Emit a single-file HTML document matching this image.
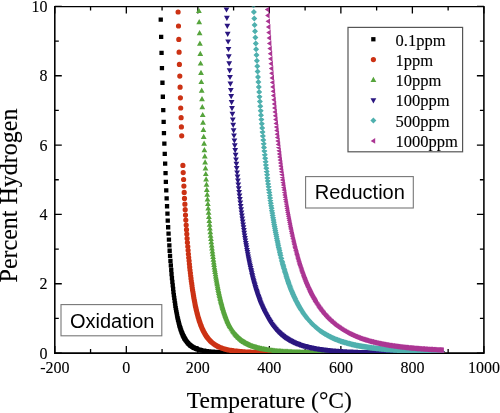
<!DOCTYPE html>
<html><head><meta charset="utf-8"><style>
html,body{margin:0;padding:0;background:#fff;width:500px;height:413px;overflow:hidden}
svg{display:block;will-change:transform}
.serif{font-family:"Liberation Serif",serif;stroke:#000;stroke-width:0.12px}
.sans{font-family:"Liberation Sans",sans-serif}
</style></head><body>
<svg width="500" height="413" viewBox="0 0 500 413">
<defs><clipPath id="c"><rect x="54.8" y="6.4" width="429.10" height="346.70"/></clipPath></defs>
<rect width="500" height="413" fill="#fff"/>
<path d="M54.8 6.6H483.9" stroke="#000" stroke-width="1.3"/>
<path d="M54.8 6.0V353.85M483.9 6.0V353.85M54.05 353.1H484.65" stroke="#000" stroke-width="1.55"/>
<path d="M54.80 353.1v-7M54.80 6.4v7M90.56 353.1v-4M90.56 6.4v4M126.32 353.1v-7M126.32 6.4v7M162.07 353.1v-4M162.07 6.4v4M197.83 353.1v-7M197.83 6.4v7M233.59 353.1v-4M233.59 6.4v4M269.35 353.1v-7M269.35 6.4v7M305.11 353.1v-4M305.11 6.4v4M340.87 353.1v-7M340.87 6.4v7M376.62 353.1v-4M376.62 6.4v4M412.38 353.1v-7M412.38 6.4v7M448.14 353.1v-4M448.14 6.4v4M483.90 353.1v-7M483.90 6.4v7M54.8 353.10h7M483.9 353.10h-7M54.8 318.43h4M483.9 318.43h-4M54.8 283.76h7M483.9 283.76h-7M54.8 249.09h4M483.9 249.09h-4M54.8 214.42h7M483.9 214.42h-7M54.8 179.75h4M483.9 179.75h-4M54.8 145.08h7M483.9 145.08h-7M54.8 110.41h4M483.9 110.41h-4M54.8 75.74h7M483.9 75.74h-7M54.8 41.07h4M483.9 41.07h-4M54.8 6.40h7M483.9 6.40h-7" stroke="#000" stroke-width="1.3" fill="none"/>
<g clip-path="url(#c)"><path fill="#000000" d="M158.1 -0.7h4.3v4.3h-4.3zM158.6 17.4h4.3v4.3h-4.3zM159.0 34.7h4.3v4.3h-4.3zM159.4 50.7h4.3v4.3h-4.3zM159.8 66.0h4.3v4.3h-4.3zM160.3 80.6h4.3v4.3h-4.3zM160.7 94.6h4.3v4.3h-4.3zM161.1 108.0h4.3v4.3h-4.3zM161.5 119.7h4.3v4.3h-4.3zM161.8 130.9h4.3v4.3h-4.3zM162.2 141.5h4.3v4.3h-4.3zM162.6 151.8h4.3v4.3h-4.3zM163.0 161.5h4.3v4.3h-4.3zM163.4 170.9h4.3v4.3h-4.3zM163.7 179.8h4.3v4.3h-4.3zM164.1 188.3h4.3v4.3h-4.3zM164.5 196.3h4.3v4.3h-4.3zM164.9 204.1h4.3v4.3h-4.3zM165.3 211.4h4.3v4.3h-4.3zM165.6 218.4h4.3v4.3h-4.3zM166.0 225.1h4.3v4.3h-4.3zM166.4 231.4h4.3v4.3h-4.3zM166.8 237.4h4.3v4.3h-4.3zM167.2 243.2h4.3v4.3h-4.3zM167.5 248.6h4.3v4.3h-4.3zM167.9 253.8h4.3v4.3h-4.3zM168.3 258.7h4.3v4.3h-4.3zM168.7 263.3h4.3v4.3h-4.3zM169.1 267.7h4.3v4.3h-4.3zM169.4 271.9h4.3v4.3h-4.3zM169.8 275.9h4.3v4.3h-4.3zM170.2 279.7h4.3v4.3h-4.3zM170.6 283.3h4.3v4.3h-4.3zM171.0 286.7h4.3v4.3h-4.3zM171.3 289.9h4.3v4.3h-4.3zM171.7 292.9h4.3v4.3h-4.3zM172.1 295.8h4.3v4.3h-4.3zM172.5 298.6h4.3v4.3h-4.3zM172.9 301.2h4.3v4.3h-4.3zM173.2 303.6h4.3v4.3h-4.3zM173.6 306.0h4.3v4.3h-4.3zM174.0 308.2h4.3v4.3h-4.3zM174.4 310.3h4.3v4.3h-4.3zM174.8 312.3h4.3v4.3h-4.3zM175.1 314.2h4.3v4.3h-4.3zM175.5 315.9h4.3v4.3h-4.3zM175.9 317.6h4.3v4.3h-4.3zM176.3 319.2h4.3v4.3h-4.3zM176.7 320.8h4.3v4.3h-4.3zM177.0 322.2h4.3v4.3h-4.3zM177.4 323.6h4.3v4.3h-4.3zM177.8 324.9h4.3v4.3h-4.3zM178.2 326.1h4.3v4.3h-4.3zM178.5 327.2h4.3v4.3h-4.3zM178.9 328.3h4.3v4.3h-4.3zM179.3 329.4h4.3v4.3h-4.3zM179.7 330.4h4.3v4.3h-4.3zM180.1 331.3h4.3v4.3h-4.3zM180.4 332.2h4.3v4.3h-4.3zM180.8 333.1h4.3v4.3h-4.3zM181.2 333.9h4.3v4.3h-4.3zM181.6 334.6h4.3v4.3h-4.3zM182.0 335.4h4.3v4.3h-4.3zM182.3 336.1h4.3v4.3h-4.3zM182.7 336.7h4.3v4.3h-4.3zM183.1 337.3h4.3v4.3h-4.3zM183.5 337.9h4.3v4.3h-4.3zM184.2 339.0h4.3v4.3h-4.3zM185.0 340.0h4.3v4.3h-4.3zM185.8 340.9h4.3v4.3h-4.3zM186.5 341.7h4.3v4.3h-4.3zM187.3 342.4h4.3v4.3h-4.3zM188.0 343.1h4.3v4.3h-4.3zM188.8 343.7h4.3v4.3h-4.3zM189.6 344.2h4.3v4.3h-4.3zM190.3 344.7h4.3v4.3h-4.3zM191.1 345.2h4.3v4.3h-4.3zM191.8 345.6h4.3v4.3h-4.3zM192.6 346.0h4.3v4.3h-4.3zM193.4 346.3h4.3v4.3h-4.3zM194.1 346.6h4.3v4.3h-4.3zM194.9 346.9h4.3v4.3h-4.3zM195.6 347.2h4.3v4.3h-4.3zM196.4 347.4h4.3v4.3h-4.3zM197.1 347.6h4.3v4.3h-4.3zM197.9 347.8h4.3v4.3h-4.3zM198.7 348.0h4.3v4.3h-4.3zM199.4 348.2h4.3v4.3h-4.3zM200.2 348.4h4.3v4.3h-4.3zM200.9 348.5h4.3v4.3h-4.3zM201.7 348.6h4.3v4.3h-4.3zM202.5 348.8h4.3v4.3h-4.3zM203.2 348.9h4.3v4.3h-4.3zM204.0 349.0h4.3v4.3h-4.3zM204.7 349.1h4.3v4.3h-4.3zM205.5 349.2h4.3v4.3h-4.3zM206.3 349.2h4.3v4.3h-4.3zM207.0 349.3h4.3v4.3h-4.3zM207.8 349.4h4.3v4.3h-4.3zM208.5 349.5h4.3v4.3h-4.3zM209.3 349.5h4.3v4.3h-4.3zM210.1 349.6h4.3v4.3h-4.3zM210.8 349.6h4.3v4.3h-4.3zM211.6 349.7h4.3v4.3h-4.3zM212.3 349.7h4.3v4.3h-4.3zM213.1 349.8h4.3v4.3h-4.3zM213.9 349.8h4.3v4.3h-4.3zM214.6 349.8h4.3v4.3h-4.3zM215.4 349.9h4.3v4.3h-4.3zM216.1 349.9h4.3v4.3h-4.3zM216.9 349.9h4.3v4.3h-4.3zM217.6 350.0h4.3v4.3h-4.3zM218.4 350.0h4.3v4.3h-4.3zM219.2 350.0h4.3v4.3h-4.3zM219.9 350.0h4.3v4.3h-4.3zM220.7 350.1h4.3v4.3h-4.3zM221.4 350.1h4.3v4.3h-4.3zM222.2 350.1h4.3v4.3h-4.3zM223.0 350.1h4.3v4.3h-4.3zM223.7 350.1h4.3v4.3h-4.3zM224.5 350.1h4.3v4.3h-4.3zM225.2 350.2h4.3v4.3h-4.3zM226.0 350.2h4.3v4.3h-4.3zM226.8 350.2h4.3v4.3h-4.3zM227.5 350.2h4.3v4.3h-4.3zM228.3 350.2h4.3v4.3h-4.3zM229.0 350.2h4.3v4.3h-4.3zM229.8 350.2h4.3v4.3h-4.3zM230.6 350.2h4.3v4.3h-4.3zM231.3 350.3h4.3v4.3h-4.3zM232.1 350.3h4.3v4.3h-4.3zM232.8 350.3h4.3v4.3h-4.3zM233.6 350.3h4.3v4.3h-4.3zM234.4 350.3h4.3v4.3h-4.3zM235.1 350.3h4.3v4.3h-4.3zM235.9 350.3h4.3v4.3h-4.3zM236.6 350.3h4.3v4.3h-4.3zM237.4 350.3h4.3v4.3h-4.3zM238.1 350.3h4.3v4.3h-4.3zM238.9 350.4h4.3v4.3h-4.3zM239.7 350.4h4.3v4.3h-4.3zM240.4 350.4h4.3v4.3h-4.3zM241.2 350.4h4.3v4.3h-4.3zM241.9 350.4h4.3v4.3h-4.3zM242.7 350.4h4.3v4.3h-4.3zM243.5 350.4h4.3v4.3h-4.3zM244.2 350.4h4.3v4.3h-4.3zM245.0 350.4h4.3v4.3h-4.3zM245.7 350.4h4.3v4.3h-4.3zM246.5 350.4h4.3v4.3h-4.3zM247.3 350.4h4.3v4.3h-4.3zM248.0 350.4h4.3v4.3h-4.3zM248.8 350.5h4.3v4.3h-4.3zM249.5 350.5h4.3v4.3h-4.3zM250.3 350.5h4.3v4.3h-4.3zM251.1 350.5h4.3v4.3h-4.3zM251.8 350.5h4.3v4.3h-4.3zM252.6 350.5h4.3v4.3h-4.3zM253.3 350.5h4.3v4.3h-4.3zM254.1 350.5h4.3v4.3h-4.3zM254.8 350.5h4.3v4.3h-4.3zM255.6 350.5h4.3v4.3h-4.3zM256.4 350.5h4.3v4.3h-4.3zM257.1 350.5h4.3v4.3h-4.3zM257.9 350.5h4.3v4.3h-4.3zM258.6 350.5h4.3v4.3h-4.3zM259.4 350.5h4.3v4.3h-4.3zM260.2 350.5h4.3v4.3h-4.3zM260.9 350.5h4.3v4.3h-4.3zM261.7 350.5h4.3v4.3h-4.3zM262.4 350.6h4.3v4.3h-4.3zM263.2 350.6h4.3v4.3h-4.3zM264.0 350.6h4.3v4.3h-4.3zM264.7 350.6h4.3v4.3h-4.3zM265.5 350.6h4.3v4.3h-4.3zM266.2 350.6h4.3v4.3h-4.3zM267.0 350.6h4.3v4.3h-4.3zM267.8 350.6h4.3v4.3h-4.3zM268.5 350.6h4.3v4.3h-4.3zM269.3 350.6h4.3v4.3h-4.3zM270.0 350.6h4.3v4.3h-4.3zM270.8 350.6h4.3v4.3h-4.3zM271.6 350.6h4.3v4.3h-4.3zM272.3 350.6h4.3v4.3h-4.3zM273.1 350.6h4.3v4.3h-4.3zM273.8 350.6h4.3v4.3h-4.3zM274.6 350.6h4.3v4.3h-4.3zM275.3 350.6h4.3v4.3h-4.3zM276.1 350.6h4.3v4.3h-4.3zM276.9 350.6h4.3v4.3h-4.3zM277.6 350.6h4.3v4.3h-4.3zM278.4 350.6h4.3v4.3h-4.3zM279.1 350.6h4.3v4.3h-4.3zM279.9 350.6h4.3v4.3h-4.3zM280.7 350.6h4.3v4.3h-4.3zM281.4 350.6h4.3v4.3h-4.3zM282.2 350.6h4.3v4.3h-4.3zM282.9 350.7h4.3v4.3h-4.3zM283.7 350.7h4.3v4.3h-4.3zM284.5 350.7h4.3v4.3h-4.3zM285.2 350.7h4.3v4.3h-4.3zM286.0 350.7h4.3v4.3h-4.3zM286.7 350.7h4.3v4.3h-4.3zM287.5 350.7h4.3v4.3h-4.3zM288.3 350.7h4.3v4.3h-4.3zM289.0 350.7h4.3v4.3h-4.3zM289.8 350.7h4.3v4.3h-4.3zM290.5 350.7h4.3v4.3h-4.3zM291.3 350.7h4.3v4.3h-4.3zM292.1 350.7h4.3v4.3h-4.3zM292.8 350.7h4.3v4.3h-4.3zM293.6 350.7h4.3v4.3h-4.3zM294.3 350.7h4.3v4.3h-4.3zM295.1 350.7h4.3v4.3h-4.3zM295.8 350.7h4.3v4.3h-4.3zM296.6 350.7h4.3v4.3h-4.3zM297.4 350.7h4.3v4.3h-4.3zM298.1 350.7h4.3v4.3h-4.3zM298.9 350.7h4.3v4.3h-4.3zM299.6 350.7h4.3v4.3h-4.3zM300.4 350.7h4.3v4.3h-4.3zM301.2 350.7h4.3v4.3h-4.3zM301.9 350.7h4.3v4.3h-4.3zM302.7 350.7h4.3v4.3h-4.3zM303.4 350.7h4.3v4.3h-4.3zM304.2 350.7h4.3v4.3h-4.3zM305.0 350.7h4.3v4.3h-4.3zM305.7 350.7h4.3v4.3h-4.3zM306.5 350.7h4.3v4.3h-4.3zM307.2 350.7h4.3v4.3h-4.3zM308.0 350.7h4.3v4.3h-4.3zM308.8 350.7h4.3v4.3h-4.3zM309.5 350.7h4.3v4.3h-4.3zM310.3 350.7h4.3v4.3h-4.3zM311.0 350.7h4.3v4.3h-4.3zM311.8 350.7h4.3v4.3h-4.3zM312.5 350.7h4.3v4.3h-4.3zM313.3 350.7h4.3v4.3h-4.3zM314.1 350.7h4.3v4.3h-4.3zM314.8 350.7h4.3v4.3h-4.3zM315.6 350.7h4.3v4.3h-4.3zM316.3 350.7h4.3v4.3h-4.3zM317.1 350.7h4.3v4.3h-4.3zM317.9 350.8h4.3v4.3h-4.3zM318.6 350.8h4.3v4.3h-4.3zM319.4 350.8h4.3v4.3h-4.3zM320.1 350.8h4.3v4.3h-4.3zM320.9 350.8h4.3v4.3h-4.3zM321.7 350.8h4.3v4.3h-4.3zM322.4 350.8h4.3v4.3h-4.3zM323.2 350.8h4.3v4.3h-4.3zM323.9 350.8h4.3v4.3h-4.3zM324.7 350.8h4.3v4.3h-4.3zM325.5 350.8h4.3v4.3h-4.3zM326.2 350.8h4.3v4.3h-4.3zM327.0 350.8h4.3v4.3h-4.3zM327.7 350.8h4.3v4.3h-4.3zM328.5 350.8h4.3v4.3h-4.3zM329.3 350.8h4.3v4.3h-4.3zM330.0 350.8h4.3v4.3h-4.3zM330.8 350.8h4.3v4.3h-4.3zM331.5 350.8h4.3v4.3h-4.3zM332.3 350.8h4.3v4.3h-4.3zM333.0 350.8h4.3v4.3h-4.3zM333.8 350.8h4.3v4.3h-4.3zM334.6 350.8h4.3v4.3h-4.3zM335.3 350.8h4.3v4.3h-4.3zM336.1 350.8h4.3v4.3h-4.3zM336.8 350.8h4.3v4.3h-4.3zM337.6 350.8h4.3v4.3h-4.3zM338.4 350.8h4.3v4.3h-4.3zM339.1 350.8h4.3v4.3h-4.3zM339.9 350.8h4.3v4.3h-4.3zM340.6 350.8h4.3v4.3h-4.3zM341.4 350.8h4.3v4.3h-4.3zM342.2 350.8h4.3v4.3h-4.3zM342.9 350.8h4.3v4.3h-4.3zM343.7 350.8h4.3v4.3h-4.3zM344.4 350.8h4.3v4.3h-4.3zM345.2 350.8h4.3v4.3h-4.3zM346.0 350.8h4.3v4.3h-4.3zM346.7 350.8h4.3v4.3h-4.3zM347.5 350.8h4.3v4.3h-4.3zM348.2 350.8h4.3v4.3h-4.3zM349.0 350.8h4.3v4.3h-4.3zM349.8 350.8h4.3v4.3h-4.3zM350.5 350.8h4.3v4.3h-4.3zM351.3 350.8h4.3v4.3h-4.3zM352.0 350.8h4.3v4.3h-4.3zM352.8 350.8h4.3v4.3h-4.3zM353.5 350.8h4.3v4.3h-4.3zM354.3 350.8h4.3v4.3h-4.3zM355.1 350.8h4.3v4.3h-4.3zM355.8 350.8h4.3v4.3h-4.3zM356.6 350.8h4.3v4.3h-4.3zM357.3 350.8h4.3v4.3h-4.3zM358.1 350.8h4.3v4.3h-4.3zM358.9 350.8h4.3v4.3h-4.3zM359.6 350.8h4.3v4.3h-4.3zM360.4 350.8h4.3v4.3h-4.3zM361.1 350.8h4.3v4.3h-4.3zM361.9 350.8h4.3v4.3h-4.3zM362.7 350.8h4.3v4.3h-4.3zM363.4 350.8h4.3v4.3h-4.3zM364.2 350.8h4.3v4.3h-4.3zM364.9 350.8h4.3v4.3h-4.3zM365.7 350.8h4.3v4.3h-4.3zM366.5 350.8h4.3v4.3h-4.3zM367.2 350.8h4.3v4.3h-4.3zM368.0 350.8h4.3v4.3h-4.3zM368.7 350.8h4.3v4.3h-4.3zM369.5 350.8h4.3v4.3h-4.3zM370.3 350.8h4.3v4.3h-4.3zM371.0 350.8h4.3v4.3h-4.3zM371.8 350.8h4.3v4.3h-4.3zM372.5 350.8h4.3v4.3h-4.3zM373.3 350.8h4.3v4.3h-4.3zM374.0 350.8h4.3v4.3h-4.3zM374.8 350.8h4.3v4.3h-4.3zM375.6 350.8h4.3v4.3h-4.3zM376.3 350.8h4.3v4.3h-4.3zM377.1 350.8h4.3v4.3h-4.3zM377.8 350.8h4.3v4.3h-4.3zM378.6 350.8h4.3v4.3h-4.3zM379.4 350.8h4.3v4.3h-4.3zM380.1 350.8h4.3v4.3h-4.3zM380.9 350.8h4.3v4.3h-4.3zM381.6 350.8h4.3v4.3h-4.3zM382.4 350.8h4.3v4.3h-4.3zM383.2 350.8h4.3v4.3h-4.3zM383.9 350.8h4.3v4.3h-4.3zM384.7 350.8h4.3v4.3h-4.3zM385.4 350.8h4.3v4.3h-4.3zM386.2 350.8h4.3v4.3h-4.3zM387.0 350.8h4.3v4.3h-4.3zM387.7 350.8h4.3v4.3h-4.3zM388.5 350.8h4.3v4.3h-4.3zM389.2 350.8h4.3v4.3h-4.3zM390.0 350.8h4.3v4.3h-4.3zM390.7 350.8h4.3v4.3h-4.3zM391.5 350.8h4.3v4.3h-4.3zM392.3 350.8h4.3v4.3h-4.3zM393.0 350.8h4.3v4.3h-4.3zM393.8 350.8h4.3v4.3h-4.3zM394.5 350.8h4.3v4.3h-4.3zM395.3 350.8h4.3v4.3h-4.3zM396.1 350.8h4.3v4.3h-4.3zM396.8 350.8h4.3v4.3h-4.3zM397.6 350.8h4.3v4.3h-4.3zM398.3 350.8h4.3v4.3h-4.3zM399.1 350.8h4.3v4.3h-4.3zM399.9 350.8h4.3v4.3h-4.3zM400.6 350.8h4.3v4.3h-4.3zM401.4 350.8h4.3v4.3h-4.3zM402.1 350.8h4.3v4.3h-4.3zM402.9 350.8h4.3v4.3h-4.3zM403.7 350.8h4.3v4.3h-4.3zM404.4 350.8h4.3v4.3h-4.3zM405.2 350.8h4.3v4.3h-4.3zM405.9 350.8h4.3v4.3h-4.3zM406.7 350.9h4.3v4.3h-4.3zM407.5 350.9h4.3v4.3h-4.3zM408.2 350.9h4.3v4.3h-4.3zM409.0 350.9h4.3v4.3h-4.3zM409.7 350.9h4.3v4.3h-4.3zM410.5 350.9h4.3v4.3h-4.3zM411.2 350.9h4.3v4.3h-4.3zM412.0 350.9h4.3v4.3h-4.3zM412.8 350.9h4.3v4.3h-4.3zM413.5 350.9h4.3v4.3h-4.3zM414.3 350.9h4.3v4.3h-4.3zM415.0 350.9h4.3v4.3h-4.3zM415.8 350.9h4.3v4.3h-4.3zM416.6 350.9h4.3v4.3h-4.3zM417.3 350.9h4.3v4.3h-4.3zM418.1 350.9h4.3v4.3h-4.3zM418.8 350.9h4.3v4.3h-4.3zM419.6 350.9h4.3v4.3h-4.3zM420.4 350.9h4.3v4.3h-4.3zM421.1 350.9h4.3v4.3h-4.3zM421.9 350.9h4.3v4.3h-4.3zM422.6 350.9h4.3v4.3h-4.3zM423.4 350.9h4.3v4.3h-4.3zM424.2 350.9h4.3v4.3h-4.3zM424.9 350.9h4.3v4.3h-4.3zM425.7 350.9h4.3v4.3h-4.3zM426.4 350.9h4.3v4.3h-4.3zM427.2 350.9h4.3v4.3h-4.3zM428.0 350.9h4.3v4.3h-4.3zM428.7 350.9h4.3v4.3h-4.3zM429.5 350.9h4.3v4.3h-4.3zM430.2 350.9h4.3v4.3h-4.3zM431.0 350.9h4.3v4.3h-4.3zM431.7 350.9h4.3v4.3h-4.3zM432.5 350.9h4.3v4.3h-4.3zM433.3 350.9h4.3v4.3h-4.3zM434.0 350.9h4.3v4.3h-4.3zM434.8 350.9h4.3v4.3h-4.3zM435.5 350.9h4.3v4.3h-4.3zM436.3 350.9h4.3v4.3h-4.3zM437.1 350.9h4.3v4.3h-4.3zM437.8 350.9h4.3v4.3h-4.3zM438.6 350.9h4.3v4.3h-4.3zM439.3 350.9h4.3v4.3h-4.3zM440.1 350.9h4.3v4.3h-4.3z"/><path fill="#cc3214" d="M175.2 -2.7a2.6 2.6 0 1 0 5.2 0a2.6 2.6 0 1 0 -5.2 0zM175.5 12.0a2.6 2.6 0 1 0 5.2 0a2.6 2.6 0 1 0 -5.2 0zM175.9 26.0a2.6 2.6 0 1 0 5.2 0a2.6 2.6 0 1 0 -5.2 0zM176.2 39.4a2.6 2.6 0 1 0 5.2 0a2.6 2.6 0 1 0 -5.2 0zM176.5 52.2a2.6 2.6 0 1 0 5.2 0a2.6 2.6 0 1 0 -5.2 0zM176.8 64.4a2.6 2.6 0 1 0 5.2 0a2.6 2.6 0 1 0 -5.2 0zM177.2 76.1a2.6 2.6 0 1 0 5.2 0a2.6 2.6 0 1 0 -5.2 0zM177.5 87.2a2.6 2.6 0 1 0 5.2 0a2.6 2.6 0 1 0 -5.2 0zM177.8 97.8a2.6 2.6 0 1 0 5.2 0a2.6 2.6 0 1 0 -5.2 0zM178.1 108.0a2.6 2.6 0 1 0 5.2 0a2.6 2.6 0 1 0 -5.2 0zM178.5 117.7a2.6 2.6 0 1 0 5.2 0a2.6 2.6 0 1 0 -5.2 0zM178.8 126.9a2.6 2.6 0 1 0 5.2 0a2.6 2.6 0 1 0 -5.2 0zM179.1 135.8a2.6 2.6 0 1 0 5.2 0a2.6 2.6 0 1 0 -5.2 0zM180.3 165.4a2.6 2.6 0 1 0 5.2 0a2.6 2.6 0 1 0 -5.2 0zM180.6 172.6a2.6 2.6 0 1 0 5.2 0a2.6 2.6 0 1 0 -5.2 0zM181.0 179.5a2.6 2.6 0 1 0 5.2 0a2.6 2.6 0 1 0 -5.2 0zM181.3 186.1a2.6 2.6 0 1 0 5.2 0a2.6 2.6 0 1 0 -5.2 0zM181.6 192.4a2.6 2.6 0 1 0 5.2 0a2.6 2.6 0 1 0 -5.2 0zM181.9 198.4a2.6 2.6 0 1 0 5.2 0a2.6 2.6 0 1 0 -5.2 0zM182.3 204.2a2.6 2.6 0 1 0 5.2 0a2.6 2.6 0 1 0 -5.2 0zM182.6 209.7a2.6 2.6 0 1 0 5.2 0a2.6 2.6 0 1 0 -5.2 0zM182.9 215.0a2.6 2.6 0 1 0 5.2 0a2.6 2.6 0 1 0 -5.2 0zM183.2 220.1a2.6 2.6 0 1 0 5.2 0a2.6 2.6 0 1 0 -5.2 0zM183.6 225.0a2.6 2.6 0 1 0 5.2 0a2.6 2.6 0 1 0 -5.2 0zM183.9 229.7a2.6 2.6 0 1 0 5.2 0a2.6 2.6 0 1 0 -5.2 0zM184.2 234.1a2.6 2.6 0 1 0 5.2 0a2.6 2.6 0 1 0 -5.2 0zM184.5 238.4a2.6 2.6 0 1 0 5.2 0a2.6 2.6 0 1 0 -5.2 0zM184.8 242.6a2.6 2.6 0 1 0 5.2 0a2.6 2.6 0 1 0 -5.2 0zM185.2 246.5a2.6 2.6 0 1 0 5.2 0a2.6 2.6 0 1 0 -5.2 0zM185.5 250.3a2.6 2.6 0 1 0 5.2 0a2.6 2.6 0 1 0 -5.2 0zM185.8 254.0a2.6 2.6 0 1 0 5.2 0a2.6 2.6 0 1 0 -5.2 0zM186.1 257.5a2.6 2.6 0 1 0 5.2 0a2.6 2.6 0 1 0 -5.2 0zM186.5 260.8a2.6 2.6 0 1 0 5.2 0a2.6 2.6 0 1 0 -5.2 0zM186.8 264.1a2.6 2.6 0 1 0 5.2 0a2.6 2.6 0 1 0 -5.2 0zM187.1 267.2a2.6 2.6 0 1 0 5.2 0a2.6 2.6 0 1 0 -5.2 0zM187.4 270.1a2.6 2.6 0 1 0 5.2 0a2.6 2.6 0 1 0 -5.2 0zM187.8 273.0a2.6 2.6 0 1 0 5.2 0a2.6 2.6 0 1 0 -5.2 0zM188.1 275.8a2.6 2.6 0 1 0 5.2 0a2.6 2.6 0 1 0 -5.2 0zM188.4 278.4a2.6 2.6 0 1 0 5.2 0a2.6 2.6 0 1 0 -5.2 0zM188.7 280.9a2.6 2.6 0 1 0 5.2 0a2.6 2.6 0 1 0 -5.2 0zM189.1 283.4a2.6 2.6 0 1 0 5.2 0a2.6 2.6 0 1 0 -5.2 0zM189.4 285.7a2.6 2.6 0 1 0 5.2 0a2.6 2.6 0 1 0 -5.2 0zM189.7 288.0a2.6 2.6 0 1 0 5.2 0a2.6 2.6 0 1 0 -5.2 0zM190.0 290.2a2.6 2.6 0 1 0 5.2 0a2.6 2.6 0 1 0 -5.2 0zM190.4 292.3a2.6 2.6 0 1 0 5.2 0a2.6 2.6 0 1 0 -5.2 0zM190.7 294.3a2.6 2.6 0 1 0 5.2 0a2.6 2.6 0 1 0 -5.2 0zM191.0 296.2a2.6 2.6 0 1 0 5.2 0a2.6 2.6 0 1 0 -5.2 0zM191.3 298.1a2.6 2.6 0 1 0 5.2 0a2.6 2.6 0 1 0 -5.2 0zM191.7 299.9a2.6 2.6 0 1 0 5.2 0a2.6 2.6 0 1 0 -5.2 0zM192.0 301.6a2.6 2.6 0 1 0 5.2 0a2.6 2.6 0 1 0 -5.2 0zM192.3 303.3a2.6 2.6 0 1 0 5.2 0a2.6 2.6 0 1 0 -5.2 0zM192.6 304.9a2.6 2.6 0 1 0 5.2 0a2.6 2.6 0 1 0 -5.2 0zM192.9 306.4a2.6 2.6 0 1 0 5.2 0a2.6 2.6 0 1 0 -5.2 0zM193.3 307.9a2.6 2.6 0 1 0 5.2 0a2.6 2.6 0 1 0 -5.2 0zM193.6 309.4a2.6 2.6 0 1 0 5.2 0a2.6 2.6 0 1 0 -5.2 0zM193.9 310.7a2.6 2.6 0 1 0 5.2 0a2.6 2.6 0 1 0 -5.2 0zM194.2 312.1a2.6 2.6 0 1 0 5.2 0a2.6 2.6 0 1 0 -5.2 0zM194.6 313.4a2.6 2.6 0 1 0 5.2 0a2.6 2.6 0 1 0 -5.2 0zM194.9 314.6a2.6 2.6 0 1 0 5.2 0a2.6 2.6 0 1 0 -5.2 0zM195.2 315.8a2.6 2.6 0 1 0 5.2 0a2.6 2.6 0 1 0 -5.2 0zM195.5 317.0a2.6 2.6 0 1 0 5.2 0a2.6 2.6 0 1 0 -5.2 0zM195.9 318.1a2.6 2.6 0 1 0 5.2 0a2.6 2.6 0 1 0 -5.2 0zM196.2 319.2a2.6 2.6 0 1 0 5.2 0a2.6 2.6 0 1 0 -5.2 0zM196.5 320.2a2.6 2.6 0 1 0 5.2 0a2.6 2.6 0 1 0 -5.2 0zM196.8 321.2a2.6 2.6 0 1 0 5.2 0a2.6 2.6 0 1 0 -5.2 0zM197.2 322.2a2.6 2.6 0 1 0 5.2 0a2.6 2.6 0 1 0 -5.2 0zM197.5 323.1a2.6 2.6 0 1 0 5.2 0a2.6 2.6 0 1 0 -5.2 0zM197.8 324.0a2.6 2.6 0 1 0 5.2 0a2.6 2.6 0 1 0 -5.2 0zM198.1 324.9a2.6 2.6 0 1 0 5.2 0a2.6 2.6 0 1 0 -5.2 0zM198.5 325.7a2.6 2.6 0 1 0 5.2 0a2.6 2.6 0 1 0 -5.2 0zM198.8 326.5a2.6 2.6 0 1 0 5.2 0a2.6 2.6 0 1 0 -5.2 0zM199.1 327.3a2.6 2.6 0 1 0 5.2 0a2.6 2.6 0 1 0 -5.2 0zM199.4 328.1a2.6 2.6 0 1 0 5.2 0a2.6 2.6 0 1 0 -5.2 0zM199.7 328.8a2.6 2.6 0 1 0 5.2 0a2.6 2.6 0 1 0 -5.2 0zM200.1 329.5a2.6 2.6 0 1 0 5.2 0a2.6 2.6 0 1 0 -5.2 0zM200.4 330.2a2.6 2.6 0 1 0 5.2 0a2.6 2.6 0 1 0 -5.2 0zM200.7 330.8a2.6 2.6 0 1 0 5.2 0a2.6 2.6 0 1 0 -5.2 0zM201.0 331.5a2.6 2.6 0 1 0 5.2 0a2.6 2.6 0 1 0 -5.2 0zM201.7 332.7a2.6 2.6 0 1 0 5.2 0a2.6 2.6 0 1 0 -5.2 0zM202.3 333.8a2.6 2.6 0 1 0 5.2 0a2.6 2.6 0 1 0 -5.2 0zM203.0 334.9a2.6 2.6 0 1 0 5.2 0a2.6 2.6 0 1 0 -5.2 0zM203.6 335.9a2.6 2.6 0 1 0 5.2 0a2.6 2.6 0 1 0 -5.2 0zM204.3 336.9a2.6 2.6 0 1 0 5.2 0a2.6 2.6 0 1 0 -5.2 0zM204.9 337.7a2.6 2.6 0 1 0 5.2 0a2.6 2.6 0 1 0 -5.2 0zM205.6 338.6a2.6 2.6 0 1 0 5.2 0a2.6 2.6 0 1 0 -5.2 0zM206.2 339.3a2.6 2.6 0 1 0 5.2 0a2.6 2.6 0 1 0 -5.2 0zM206.9 340.1a2.6 2.6 0 1 0 5.2 0a2.6 2.6 0 1 0 -5.2 0zM207.5 340.7a2.6 2.6 0 1 0 5.2 0a2.6 2.6 0 1 0 -5.2 0zM208.2 341.4a2.6 2.6 0 1 0 5.2 0a2.6 2.6 0 1 0 -5.2 0zM208.8 342.0a2.6 2.6 0 1 0 5.2 0a2.6 2.6 0 1 0 -5.2 0zM209.5 342.6a2.6 2.6 0 1 0 5.2 0a2.6 2.6 0 1 0 -5.2 0zM210.1 343.1a2.6 2.6 0 1 0 5.2 0a2.6 2.6 0 1 0 -5.2 0zM210.8 343.6a2.6 2.6 0 1 0 5.2 0a2.6 2.6 0 1 0 -5.2 0zM211.4 344.1a2.6 2.6 0 1 0 5.2 0a2.6 2.6 0 1 0 -5.2 0zM212.1 344.5a2.6 2.6 0 1 0 5.2 0a2.6 2.6 0 1 0 -5.2 0zM212.7 344.9a2.6 2.6 0 1 0 5.2 0a2.6 2.6 0 1 0 -5.2 0zM213.4 345.3a2.6 2.6 0 1 0 5.2 0a2.6 2.6 0 1 0 -5.2 0zM214.0 345.7a2.6 2.6 0 1 0 5.2 0a2.6 2.6 0 1 0 -5.2 0zM214.7 346.1a2.6 2.6 0 1 0 5.2 0a2.6 2.6 0 1 0 -5.2 0zM215.3 346.4a2.6 2.6 0 1 0 5.2 0a2.6 2.6 0 1 0 -5.2 0zM215.9 346.7a2.6 2.6 0 1 0 5.2 0a2.6 2.6 0 1 0 -5.2 0zM216.6 347.0a2.6 2.6 0 1 0 5.2 0a2.6 2.6 0 1 0 -5.2 0zM217.2 347.3a2.6 2.6 0 1 0 5.2 0a2.6 2.6 0 1 0 -5.2 0zM217.9 347.6a2.6 2.6 0 1 0 5.2 0a2.6 2.6 0 1 0 -5.2 0zM218.9 347.9a2.6 2.6 0 1 0 5.2 0a2.6 2.6 0 1 0 -5.2 0zM219.8 348.3a2.6 2.6 0 1 0 5.2 0a2.6 2.6 0 1 0 -5.2 0zM220.8 348.6a2.6 2.6 0 1 0 5.2 0a2.6 2.6 0 1 0 -5.2 0zM221.8 348.9a2.6 2.6 0 1 0 5.2 0a2.6 2.6 0 1 0 -5.2 0zM222.8 349.2a2.6 2.6 0 1 0 5.2 0a2.6 2.6 0 1 0 -5.2 0zM223.7 349.4a2.6 2.6 0 1 0 5.2 0a2.6 2.6 0 1 0 -5.2 0zM224.7 349.7a2.6 2.6 0 1 0 5.2 0a2.6 2.6 0 1 0 -5.2 0zM225.7 349.9a2.6 2.6 0 1 0 5.2 0a2.6 2.6 0 1 0 -5.2 0zM226.6 350.1a2.6 2.6 0 1 0 5.2 0a2.6 2.6 0 1 0 -5.2 0zM227.6 350.3a2.6 2.6 0 1 0 5.2 0a2.6 2.6 0 1 0 -5.2 0zM228.6 350.4a2.6 2.6 0 1 0 5.2 0a2.6 2.6 0 1 0 -5.2 0zM229.6 350.6a2.6 2.6 0 1 0 5.2 0a2.6 2.6 0 1 0 -5.2 0zM230.5 350.7a2.6 2.6 0 1 0 5.2 0a2.6 2.6 0 1 0 -5.2 0zM231.5 350.9a2.6 2.6 0 1 0 5.2 0a2.6 2.6 0 1 0 -5.2 0zM232.5 351.0a2.6 2.6 0 1 0 5.2 0a2.6 2.6 0 1 0 -5.2 0zM233.4 351.1a2.6 2.6 0 1 0 5.2 0a2.6 2.6 0 1 0 -5.2 0zM234.4 351.2a2.6 2.6 0 1 0 5.2 0a2.6 2.6 0 1 0 -5.2 0zM235.4 351.3a2.6 2.6 0 1 0 5.2 0a2.6 2.6 0 1 0 -5.2 0zM236.4 351.4a2.6 2.6 0 1 0 5.2 0a2.6 2.6 0 1 0 -5.2 0zM237.3 351.5a2.6 2.6 0 1 0 5.2 0a2.6 2.6 0 1 0 -5.2 0zM238.3 351.6a2.6 2.6 0 1 0 5.2 0a2.6 2.6 0 1 0 -5.2 0zM239.3 351.7a2.6 2.6 0 1 0 5.2 0a2.6 2.6 0 1 0 -5.2 0zM240.2 351.8a2.6 2.6 0 1 0 5.2 0a2.6 2.6 0 1 0 -5.2 0zM241.2 351.8a2.6 2.6 0 1 0 5.2 0a2.6 2.6 0 1 0 -5.2 0zM242.2 351.9a2.6 2.6 0 1 0 5.2 0a2.6 2.6 0 1 0 -5.2 0zM243.2 352.0a2.6 2.6 0 1 0 5.2 0a2.6 2.6 0 1 0 -5.2 0zM244.1 352.0a2.6 2.6 0 1 0 5.2 0a2.6 2.6 0 1 0 -5.2 0zM245.1 352.1a2.6 2.6 0 1 0 5.2 0a2.6 2.6 0 1 0 -5.2 0zM246.1 352.1a2.6 2.6 0 1 0 5.2 0a2.6 2.6 0 1 0 -5.2 0zM247.0 352.2a2.6 2.6 0 1 0 5.2 0a2.6 2.6 0 1 0 -5.2 0zM248.0 352.2a2.6 2.6 0 1 0 5.2 0a2.6 2.6 0 1 0 -5.2 0zM249.0 352.3a2.6 2.6 0 1 0 5.2 0a2.6 2.6 0 1 0 -5.2 0zM250.0 352.3a2.6 2.6 0 1 0 5.2 0a2.6 2.6 0 1 0 -5.2 0zM250.9 352.4a2.6 2.6 0 1 0 5.2 0a2.6 2.6 0 1 0 -5.2 0zM251.9 352.4a2.6 2.6 0 1 0 5.2 0a2.6 2.6 0 1 0 -5.2 0zM252.9 352.4a2.6 2.6 0 1 0 5.2 0a2.6 2.6 0 1 0 -5.2 0zM253.9 352.5a2.6 2.6 0 1 0 5.2 0a2.6 2.6 0 1 0 -5.2 0zM254.8 352.5a2.6 2.6 0 1 0 5.2 0a2.6 2.6 0 1 0 -5.2 0zM255.8 352.5a2.6 2.6 0 1 0 5.2 0a2.6 2.6 0 1 0 -5.2 0zM256.8 352.5a2.6 2.6 0 1 0 5.2 0a2.6 2.6 0 1 0 -5.2 0zM257.7 352.6a2.6 2.6 0 1 0 5.2 0a2.6 2.6 0 1 0 -5.2 0zM258.7 352.6a2.6 2.6 0 1 0 5.2 0a2.6 2.6 0 1 0 -5.2 0zM259.7 352.6a2.6 2.6 0 1 0 5.2 0a2.6 2.6 0 1 0 -5.2 0zM260.7 352.6a2.6 2.6 0 1 0 5.2 0a2.6 2.6 0 1 0 -5.2 0zM261.6 352.7a2.6 2.6 0 1 0 5.2 0a2.6 2.6 0 1 0 -5.2 0zM262.6 352.7a2.6 2.6 0 1 0 5.2 0a2.6 2.6 0 1 0 -5.2 0zM263.6 352.7a2.6 2.6 0 1 0 5.2 0a2.6 2.6 0 1 0 -5.2 0zM264.5 352.7a2.6 2.6 0 1 0 5.2 0a2.6 2.6 0 1 0 -5.2 0zM265.5 352.7a2.6 2.6 0 1 0 5.2 0a2.6 2.6 0 1 0 -5.2 0zM266.5 352.7a2.6 2.6 0 1 0 5.2 0a2.6 2.6 0 1 0 -5.2 0zM267.5 352.8a2.6 2.6 0 1 0 5.2 0a2.6 2.6 0 1 0 -5.2 0zM268.4 352.8a2.6 2.6 0 1 0 5.2 0a2.6 2.6 0 1 0 -5.2 0zM269.4 352.8a2.6 2.6 0 1 0 5.2 0a2.6 2.6 0 1 0 -5.2 0zM270.4 352.8a2.6 2.6 0 1 0 5.2 0a2.6 2.6 0 1 0 -5.2 0zM271.3 352.8a2.6 2.6 0 1 0 5.2 0a2.6 2.6 0 1 0 -5.2 0zM272.3 352.8a2.6 2.6 0 1 0 5.2 0a2.6 2.6 0 1 0 -5.2 0zM273.3 352.8a2.6 2.6 0 1 0 5.2 0a2.6 2.6 0 1 0 -5.2 0zM274.3 352.8a2.6 2.6 0 1 0 5.2 0a2.6 2.6 0 1 0 -5.2 0zM275.2 352.9a2.6 2.6 0 1 0 5.2 0a2.6 2.6 0 1 0 -5.2 0zM276.2 352.9a2.6 2.6 0 1 0 5.2 0a2.6 2.6 0 1 0 -5.2 0zM277.2 352.9a2.6 2.6 0 1 0 5.2 0a2.6 2.6 0 1 0 -5.2 0zM278.1 352.9a2.6 2.6 0 1 0 5.2 0a2.6 2.6 0 1 0 -5.2 0zM279.1 352.9a2.6 2.6 0 1 0 5.2 0a2.6 2.6 0 1 0 -5.2 0zM280.1 352.9a2.6 2.6 0 1 0 5.2 0a2.6 2.6 0 1 0 -5.2 0zM281.1 352.9a2.6 2.6 0 1 0 5.2 0a2.6 2.6 0 1 0 -5.2 0zM282.0 352.9a2.6 2.6 0 1 0 5.2 0a2.6 2.6 0 1 0 -5.2 0zM283.0 352.9a2.6 2.6 0 1 0 5.2 0a2.6 2.6 0 1 0 -5.2 0zM284.0 352.9a2.6 2.6 0 1 0 5.2 0a2.6 2.6 0 1 0 -5.2 0zM285.0 352.9a2.6 2.6 0 1 0 5.2 0a2.6 2.6 0 1 0 -5.2 0zM285.9 352.9a2.6 2.6 0 1 0 5.2 0a2.6 2.6 0 1 0 -5.2 0zM286.9 352.9a2.6 2.6 0 1 0 5.2 0a2.6 2.6 0 1 0 -5.2 0zM287.9 352.9a2.6 2.6 0 1 0 5.2 0a2.6 2.6 0 1 0 -5.2 0zM288.8 353.0a2.6 2.6 0 1 0 5.2 0a2.6 2.6 0 1 0 -5.2 0zM289.8 353.0a2.6 2.6 0 1 0 5.2 0a2.6 2.6 0 1 0 -5.2 0zM290.8 353.0a2.6 2.6 0 1 0 5.2 0a2.6 2.6 0 1 0 -5.2 0zM291.8 353.0a2.6 2.6 0 1 0 5.2 0a2.6 2.6 0 1 0 -5.2 0zM292.7 353.0a2.6 2.6 0 1 0 5.2 0a2.6 2.6 0 1 0 -5.2 0zM293.7 353.0a2.6 2.6 0 1 0 5.2 0a2.6 2.6 0 1 0 -5.2 0zM294.7 353.0a2.6 2.6 0 1 0 5.2 0a2.6 2.6 0 1 0 -5.2 0zM295.6 353.0a2.6 2.6 0 1 0 5.2 0a2.6 2.6 0 1 0 -5.2 0zM296.6 353.0a2.6 2.6 0 1 0 5.2 0a2.6 2.6 0 1 0 -5.2 0zM297.6 353.0a2.6 2.6 0 1 0 5.2 0a2.6 2.6 0 1 0 -5.2 0zM298.6 353.0a2.6 2.6 0 1 0 5.2 0a2.6 2.6 0 1 0 -5.2 0zM299.5 353.0a2.6 2.6 0 1 0 5.2 0a2.6 2.6 0 1 0 -5.2 0zM300.5 353.0a2.6 2.6 0 1 0 5.2 0a2.6 2.6 0 1 0 -5.2 0zM301.5 353.0a2.6 2.6 0 1 0 5.2 0a2.6 2.6 0 1 0 -5.2 0zM302.4 353.0a2.6 2.6 0 1 0 5.2 0a2.6 2.6 0 1 0 -5.2 0zM303.4 353.0a2.6 2.6 0 1 0 5.2 0a2.6 2.6 0 1 0 -5.2 0zM304.4 353.0a2.6 2.6 0 1 0 5.2 0a2.6 2.6 0 1 0 -5.2 0zM305.4 353.0a2.6 2.6 0 1 0 5.2 0a2.6 2.6 0 1 0 -5.2 0zM306.3 353.0a2.6 2.6 0 1 0 5.2 0a2.6 2.6 0 1 0 -5.2 0zM307.3 353.0a2.6 2.6 0 1 0 5.2 0a2.6 2.6 0 1 0 -5.2 0zM308.3 353.0a2.6 2.6 0 1 0 5.2 0a2.6 2.6 0 1 0 -5.2 0zM309.2 353.0a2.6 2.6 0 1 0 5.2 0a2.6 2.6 0 1 0 -5.2 0zM310.2 353.0a2.6 2.6 0 1 0 5.2 0a2.6 2.6 0 1 0 -5.2 0zM311.2 353.0a2.6 2.6 0 1 0 5.2 0a2.6 2.6 0 1 0 -5.2 0zM312.2 353.0a2.6 2.6 0 1 0 5.2 0a2.6 2.6 0 1 0 -5.2 0zM313.1 353.0a2.6 2.6 0 1 0 5.2 0a2.6 2.6 0 1 0 -5.2 0zM314.1 353.0a2.6 2.6 0 1 0 5.2 0a2.6 2.6 0 1 0 -5.2 0zM315.1 353.0a2.6 2.6 0 1 0 5.2 0a2.6 2.6 0 1 0 -5.2 0zM316.1 353.0a2.6 2.6 0 1 0 5.2 0a2.6 2.6 0 1 0 -5.2 0zM317.0 353.0a2.6 2.6 0 1 0 5.2 0a2.6 2.6 0 1 0 -5.2 0zM318.0 353.0a2.6 2.6 0 1 0 5.2 0a2.6 2.6 0 1 0 -5.2 0zM319.0 353.0a2.6 2.6 0 1 0 5.2 0a2.6 2.6 0 1 0 -5.2 0zM319.9 353.0a2.6 2.6 0 1 0 5.2 0a2.6 2.6 0 1 0 -5.2 0zM320.9 353.0a2.6 2.6 0 1 0 5.2 0a2.6 2.6 0 1 0 -5.2 0zM321.9 353.1a2.6 2.6 0 1 0 5.2 0a2.6 2.6 0 1 0 -5.2 0zM322.9 353.1a2.6 2.6 0 1 0 5.2 0a2.6 2.6 0 1 0 -5.2 0zM323.8 353.1a2.6 2.6 0 1 0 5.2 0a2.6 2.6 0 1 0 -5.2 0zM324.8 353.1a2.6 2.6 0 1 0 5.2 0a2.6 2.6 0 1 0 -5.2 0zM325.8 353.1a2.6 2.6 0 1 0 5.2 0a2.6 2.6 0 1 0 -5.2 0zM326.7 353.1a2.6 2.6 0 1 0 5.2 0a2.6 2.6 0 1 0 -5.2 0zM327.7 353.1a2.6 2.6 0 1 0 5.2 0a2.6 2.6 0 1 0 -5.2 0zM328.7 353.1a2.6 2.6 0 1 0 5.2 0a2.6 2.6 0 1 0 -5.2 0zM329.7 353.1a2.6 2.6 0 1 0 5.2 0a2.6 2.6 0 1 0 -5.2 0zM330.6 353.1a2.6 2.6 0 1 0 5.2 0a2.6 2.6 0 1 0 -5.2 0zM331.6 353.1a2.6 2.6 0 1 0 5.2 0a2.6 2.6 0 1 0 -5.2 0zM332.6 353.1a2.6 2.6 0 1 0 5.2 0a2.6 2.6 0 1 0 -5.2 0zM333.5 353.1a2.6 2.6 0 1 0 5.2 0a2.6 2.6 0 1 0 -5.2 0zM334.5 353.1a2.6 2.6 0 1 0 5.2 0a2.6 2.6 0 1 0 -5.2 0zM335.5 353.1a2.6 2.6 0 1 0 5.2 0a2.6 2.6 0 1 0 -5.2 0zM336.5 353.1a2.6 2.6 0 1 0 5.2 0a2.6 2.6 0 1 0 -5.2 0zM337.4 353.1a2.6 2.6 0 1 0 5.2 0a2.6 2.6 0 1 0 -5.2 0zM338.4 353.1a2.6 2.6 0 1 0 5.2 0a2.6 2.6 0 1 0 -5.2 0zM339.4 353.1a2.6 2.6 0 1 0 5.2 0a2.6 2.6 0 1 0 -5.2 0zM340.3 353.1a2.6 2.6 0 1 0 5.2 0a2.6 2.6 0 1 0 -5.2 0zM341.3 353.1a2.6 2.6 0 1 0 5.2 0a2.6 2.6 0 1 0 -5.2 0zM342.3 353.1a2.6 2.6 0 1 0 5.2 0a2.6 2.6 0 1 0 -5.2 0zM343.3 353.1a2.6 2.6 0 1 0 5.2 0a2.6 2.6 0 1 0 -5.2 0zM344.2 353.1a2.6 2.6 0 1 0 5.2 0a2.6 2.6 0 1 0 -5.2 0zM345.2 353.1a2.6 2.6 0 1 0 5.2 0a2.6 2.6 0 1 0 -5.2 0zM346.2 353.1a2.6 2.6 0 1 0 5.2 0a2.6 2.6 0 1 0 -5.2 0zM347.2 353.1a2.6 2.6 0 1 0 5.2 0a2.6 2.6 0 1 0 -5.2 0zM348.1 353.1a2.6 2.6 0 1 0 5.2 0a2.6 2.6 0 1 0 -5.2 0zM349.1 353.1a2.6 2.6 0 1 0 5.2 0a2.6 2.6 0 1 0 -5.2 0zM350.1 353.1a2.6 2.6 0 1 0 5.2 0a2.6 2.6 0 1 0 -5.2 0zM351.0 353.1a2.6 2.6 0 1 0 5.2 0a2.6 2.6 0 1 0 -5.2 0zM352.0 353.1a2.6 2.6 0 1 0 5.2 0a2.6 2.6 0 1 0 -5.2 0zM353.0 353.1a2.6 2.6 0 1 0 5.2 0a2.6 2.6 0 1 0 -5.2 0zM354.0 353.1a2.6 2.6 0 1 0 5.2 0a2.6 2.6 0 1 0 -5.2 0zM354.9 353.1a2.6 2.6 0 1 0 5.2 0a2.6 2.6 0 1 0 -5.2 0zM355.9 353.1a2.6 2.6 0 1 0 5.2 0a2.6 2.6 0 1 0 -5.2 0zM356.9 353.1a2.6 2.6 0 1 0 5.2 0a2.6 2.6 0 1 0 -5.2 0zM357.8 353.1a2.6 2.6 0 1 0 5.2 0a2.6 2.6 0 1 0 -5.2 0zM358.8 353.1a2.6 2.6 0 1 0 5.2 0a2.6 2.6 0 1 0 -5.2 0zM359.8 353.1a2.6 2.6 0 1 0 5.2 0a2.6 2.6 0 1 0 -5.2 0zM360.8 353.1a2.6 2.6 0 1 0 5.2 0a2.6 2.6 0 1 0 -5.2 0zM361.7 353.1a2.6 2.6 0 1 0 5.2 0a2.6 2.6 0 1 0 -5.2 0zM362.7 353.1a2.6 2.6 0 1 0 5.2 0a2.6 2.6 0 1 0 -5.2 0zM363.7 353.1a2.6 2.6 0 1 0 5.2 0a2.6 2.6 0 1 0 -5.2 0zM364.6 353.1a2.6 2.6 0 1 0 5.2 0a2.6 2.6 0 1 0 -5.2 0zM365.6 353.1a2.6 2.6 0 1 0 5.2 0a2.6 2.6 0 1 0 -5.2 0zM366.6 353.1a2.6 2.6 0 1 0 5.2 0a2.6 2.6 0 1 0 -5.2 0zM367.6 353.1a2.6 2.6 0 1 0 5.2 0a2.6 2.6 0 1 0 -5.2 0zM368.5 353.1a2.6 2.6 0 1 0 5.2 0a2.6 2.6 0 1 0 -5.2 0zM369.5 353.1a2.6 2.6 0 1 0 5.2 0a2.6 2.6 0 1 0 -5.2 0zM370.5 353.1a2.6 2.6 0 1 0 5.2 0a2.6 2.6 0 1 0 -5.2 0zM371.4 353.1a2.6 2.6 0 1 0 5.2 0a2.6 2.6 0 1 0 -5.2 0zM372.4 353.1a2.6 2.6 0 1 0 5.2 0a2.6 2.6 0 1 0 -5.2 0zM373.4 353.1a2.6 2.6 0 1 0 5.2 0a2.6 2.6 0 1 0 -5.2 0zM374.4 353.1a2.6 2.6 0 1 0 5.2 0a2.6 2.6 0 1 0 -5.2 0zM375.3 353.1a2.6 2.6 0 1 0 5.2 0a2.6 2.6 0 1 0 -5.2 0zM376.3 353.1a2.6 2.6 0 1 0 5.2 0a2.6 2.6 0 1 0 -5.2 0zM377.3 353.1a2.6 2.6 0 1 0 5.2 0a2.6 2.6 0 1 0 -5.2 0zM378.3 353.1a2.6 2.6 0 1 0 5.2 0a2.6 2.6 0 1 0 -5.2 0zM379.2 353.1a2.6 2.6 0 1 0 5.2 0a2.6 2.6 0 1 0 -5.2 0zM380.2 353.1a2.6 2.6 0 1 0 5.2 0a2.6 2.6 0 1 0 -5.2 0zM381.2 353.1a2.6 2.6 0 1 0 5.2 0a2.6 2.6 0 1 0 -5.2 0zM382.1 353.1a2.6 2.6 0 1 0 5.2 0a2.6 2.6 0 1 0 -5.2 0zM383.1 353.1a2.6 2.6 0 1 0 5.2 0a2.6 2.6 0 1 0 -5.2 0zM384.1 353.1a2.6 2.6 0 1 0 5.2 0a2.6 2.6 0 1 0 -5.2 0zM385.1 353.1a2.6 2.6 0 1 0 5.2 0a2.6 2.6 0 1 0 -5.2 0zM386.0 353.1a2.6 2.6 0 1 0 5.2 0a2.6 2.6 0 1 0 -5.2 0zM387.0 353.1a2.6 2.6 0 1 0 5.2 0a2.6 2.6 0 1 0 -5.2 0zM388.0 353.1a2.6 2.6 0 1 0 5.2 0a2.6 2.6 0 1 0 -5.2 0zM388.9 353.1a2.6 2.6 0 1 0 5.2 0a2.6 2.6 0 1 0 -5.2 0zM389.9 353.1a2.6 2.6 0 1 0 5.2 0a2.6 2.6 0 1 0 -5.2 0zM390.9 353.1a2.6 2.6 0 1 0 5.2 0a2.6 2.6 0 1 0 -5.2 0zM391.9 353.1a2.6 2.6 0 1 0 5.2 0a2.6 2.6 0 1 0 -5.2 0zM392.8 353.1a2.6 2.6 0 1 0 5.2 0a2.6 2.6 0 1 0 -5.2 0zM393.8 353.1a2.6 2.6 0 1 0 5.2 0a2.6 2.6 0 1 0 -5.2 0zM394.8 353.1a2.6 2.6 0 1 0 5.2 0a2.6 2.6 0 1 0 -5.2 0zM395.7 353.1a2.6 2.6 0 1 0 5.2 0a2.6 2.6 0 1 0 -5.2 0zM396.7 353.1a2.6 2.6 0 1 0 5.2 0a2.6 2.6 0 1 0 -5.2 0zM397.7 353.1a2.6 2.6 0 1 0 5.2 0a2.6 2.6 0 1 0 -5.2 0zM398.7 353.1a2.6 2.6 0 1 0 5.2 0a2.6 2.6 0 1 0 -5.2 0zM399.6 353.1a2.6 2.6 0 1 0 5.2 0a2.6 2.6 0 1 0 -5.2 0zM400.6 353.1a2.6 2.6 0 1 0 5.2 0a2.6 2.6 0 1 0 -5.2 0zM401.6 353.1a2.6 2.6 0 1 0 5.2 0a2.6 2.6 0 1 0 -5.2 0zM402.6 353.1a2.6 2.6 0 1 0 5.2 0a2.6 2.6 0 1 0 -5.2 0zM403.5 353.1a2.6 2.6 0 1 0 5.2 0a2.6 2.6 0 1 0 -5.2 0zM404.5 353.1a2.6 2.6 0 1 0 5.2 0a2.6 2.6 0 1 0 -5.2 0zM405.5 353.1a2.6 2.6 0 1 0 5.2 0a2.6 2.6 0 1 0 -5.2 0zM406.4 353.1a2.6 2.6 0 1 0 5.2 0a2.6 2.6 0 1 0 -5.2 0zM407.4 353.1a2.6 2.6 0 1 0 5.2 0a2.6 2.6 0 1 0 -5.2 0zM408.4 353.1a2.6 2.6 0 1 0 5.2 0a2.6 2.6 0 1 0 -5.2 0zM409.4 353.1a2.6 2.6 0 1 0 5.2 0a2.6 2.6 0 1 0 -5.2 0zM410.3 353.1a2.6 2.6 0 1 0 5.2 0a2.6 2.6 0 1 0 -5.2 0zM411.3 353.1a2.6 2.6 0 1 0 5.2 0a2.6 2.6 0 1 0 -5.2 0zM412.3 353.1a2.6 2.6 0 1 0 5.2 0a2.6 2.6 0 1 0 -5.2 0zM413.2 353.1a2.6 2.6 0 1 0 5.2 0a2.6 2.6 0 1 0 -5.2 0zM414.2 353.1a2.6 2.6 0 1 0 5.2 0a2.6 2.6 0 1 0 -5.2 0zM415.2 353.1a2.6 2.6 0 1 0 5.2 0a2.6 2.6 0 1 0 -5.2 0zM416.2 353.1a2.6 2.6 0 1 0 5.2 0a2.6 2.6 0 1 0 -5.2 0zM417.1 353.1a2.6 2.6 0 1 0 5.2 0a2.6 2.6 0 1 0 -5.2 0zM418.1 353.1a2.6 2.6 0 1 0 5.2 0a2.6 2.6 0 1 0 -5.2 0zM419.1 353.1a2.6 2.6 0 1 0 5.2 0a2.6 2.6 0 1 0 -5.2 0zM420.0 353.1a2.6 2.6 0 1 0 5.2 0a2.6 2.6 0 1 0 -5.2 0zM421.0 353.1a2.6 2.6 0 1 0 5.2 0a2.6 2.6 0 1 0 -5.2 0zM422.0 353.1a2.6 2.6 0 1 0 5.2 0a2.6 2.6 0 1 0 -5.2 0zM423.0 353.1a2.6 2.6 0 1 0 5.2 0a2.6 2.6 0 1 0 -5.2 0zM423.9 353.1a2.6 2.6 0 1 0 5.2 0a2.6 2.6 0 1 0 -5.2 0zM424.9 353.1a2.6 2.6 0 1 0 5.2 0a2.6 2.6 0 1 0 -5.2 0zM425.9 353.1a2.6 2.6 0 1 0 5.2 0a2.6 2.6 0 1 0 -5.2 0zM426.8 353.1a2.6 2.6 0 1 0 5.2 0a2.6 2.6 0 1 0 -5.2 0zM427.8 353.1a2.6 2.6 0 1 0 5.2 0a2.6 2.6 0 1 0 -5.2 0zM428.8 353.1a2.6 2.6 0 1 0 5.2 0a2.6 2.6 0 1 0 -5.2 0zM429.8 353.1a2.6 2.6 0 1 0 5.2 0a2.6 2.6 0 1 0 -5.2 0zM430.7 353.1a2.6 2.6 0 1 0 5.2 0a2.6 2.6 0 1 0 -5.2 0zM431.7 353.1a2.6 2.6 0 1 0 5.2 0a2.6 2.6 0 1 0 -5.2 0zM432.7 353.1a2.6 2.6 0 1 0 5.2 0a2.6 2.6 0 1 0 -5.2 0zM433.7 353.1a2.6 2.6 0 1 0 5.2 0a2.6 2.6 0 1 0 -5.2 0zM434.6 353.1a2.6 2.6 0 1 0 5.2 0a2.6 2.6 0 1 0 -5.2 0zM435.6 353.1a2.6 2.6 0 1 0 5.2 0a2.6 2.6 0 1 0 -5.2 0zM436.6 353.1a2.6 2.6 0 1 0 5.2 0a2.6 2.6 0 1 0 -5.2 0zM437.5 353.1a2.6 2.6 0 1 0 5.2 0a2.6 2.6 0 1 0 -5.2 0zM438.5 353.1a2.6 2.6 0 1 0 5.2 0a2.6 2.6 0 1 0 -5.2 0zM439.5 353.1a2.6 2.6 0 1 0 5.2 0a2.6 2.6 0 1 0 -5.2 0z"/><path fill="#56a43c" d="M195.3 -11.1h5.8l-2.9 -5.2zM195.6 1.2h5.8l-2.9 -5.2zM196.0 13.0h5.8l-2.9 -5.2zM196.3 24.3h5.8l-2.9 -5.2zM196.7 35.3h5.8l-2.9 -5.2zM197.0 45.8h5.8l-2.9 -5.2zM197.4 55.9h5.8l-2.9 -5.2zM197.7 65.6h5.8l-2.9 -5.2zM198.1 75.0h5.8l-2.9 -5.2zM198.4 84.1h5.8l-2.9 -5.2zM198.8 92.8h5.8l-2.9 -5.2zM199.1 101.2h5.8l-2.9 -5.2zM199.4 109.3h5.8l-2.9 -5.2zM199.8 117.1h5.8l-2.9 -5.2zM200.1 124.7h5.8l-2.9 -5.2zM200.5 131.9h5.8l-2.9 -5.2zM200.8 138.9h5.8l-2.9 -5.2zM201.2 145.7h5.8l-2.9 -5.2zM201.5 152.2h5.8l-2.9 -5.2zM201.9 158.5h5.8l-2.9 -5.2zM202.2 164.5h5.8l-2.9 -5.2zM202.6 170.4h5.8l-2.9 -5.2zM202.9 176.1h5.8l-2.9 -5.2zM203.2 181.5h5.8l-2.9 -5.2zM203.6 186.8h5.8l-2.9 -5.2zM203.9 191.9h5.8l-2.9 -5.2zM204.3 196.8h5.8l-2.9 -5.2zM204.6 201.5h5.8l-2.9 -5.2zM205.0 206.1h5.8l-2.9 -5.2zM205.3 210.5h5.8l-2.9 -5.2zM205.7 214.8h5.8l-2.9 -5.2zM206.0 218.9h5.8l-2.9 -5.2zM206.4 222.9h5.8l-2.9 -5.2zM206.7 226.8h5.8l-2.9 -5.2zM207.0 230.5h5.8l-2.9 -5.2zM207.4 234.2h5.8l-2.9 -5.2zM207.7 237.7h5.8l-2.9 -5.2zM208.1 241.0h5.8l-2.9 -5.2zM208.4 244.3h5.8l-2.9 -5.2zM208.8 247.5h5.8l-2.9 -5.2zM209.1 250.5h5.8l-2.9 -5.2zM209.5 253.5h5.8l-2.9 -5.2zM209.8 256.3h5.8l-2.9 -5.2zM210.2 259.1h5.8l-2.9 -5.2zM210.5 261.8h5.8l-2.9 -5.2zM210.9 264.4h5.8l-2.9 -5.2zM211.2 266.9h5.8l-2.9 -5.2zM211.5 269.4h5.8l-2.9 -5.2zM211.9 271.7h5.8l-2.9 -5.2zM212.2 274.0h5.8l-2.9 -5.2zM212.6 276.2h5.8l-2.9 -5.2zM212.9 278.4h5.8l-2.9 -5.2zM213.3 280.5h5.8l-2.9 -5.2zM213.6 282.5h5.8l-2.9 -5.2zM214.0 284.4h5.8l-2.9 -5.2zM214.3 286.3h5.8l-2.9 -5.2zM214.7 288.2h5.8l-2.9 -5.2zM215.0 289.9h5.8l-2.9 -5.2zM215.3 291.7h5.8l-2.9 -5.2zM215.7 293.3h5.8l-2.9 -5.2zM216.0 295.0h5.8l-2.9 -5.2zM216.4 296.5h5.8l-2.9 -5.2zM216.7 298.1h5.8l-2.9 -5.2zM217.1 299.5h5.8l-2.9 -5.2zM217.4 301.0h5.8l-2.9 -5.2zM217.8 302.4h5.8l-2.9 -5.2zM218.1 303.7h5.8l-2.9 -5.2zM218.5 305.0h5.8l-2.9 -5.2zM218.8 306.3h5.8l-2.9 -5.2zM219.1 307.6h5.8l-2.9 -5.2zM219.5 308.8h5.8l-2.9 -5.2zM219.8 309.9h5.8l-2.9 -5.2zM220.2 311.1h5.8l-2.9 -5.2zM220.5 312.2h5.8l-2.9 -5.2zM220.9 313.2h5.8l-2.9 -5.2zM221.2 314.3h5.8l-2.9 -5.2zM221.6 315.3h5.8l-2.9 -5.2zM221.9 316.3h5.8l-2.9 -5.2zM222.3 317.2h5.8l-2.9 -5.2zM222.6 318.1h5.8l-2.9 -5.2zM222.9 319.0h5.8l-2.9 -5.2zM223.3 319.9h5.8l-2.9 -5.2zM223.6 320.8h5.8l-2.9 -5.2zM224.0 321.6h5.8l-2.9 -5.2zM224.3 322.4h5.8l-2.9 -5.2zM224.7 323.2h5.8l-2.9 -5.2zM225.0 323.9h5.8l-2.9 -5.2zM225.4 324.7h5.8l-2.9 -5.2zM225.7 325.4h5.8l-2.9 -5.2zM226.1 326.1h5.8l-2.9 -5.2zM226.4 326.8h5.8l-2.9 -5.2zM226.7 327.5h5.8l-2.9 -5.2zM227.1 328.1h5.8l-2.9 -5.2zM227.4 328.7h5.8l-2.9 -5.2zM227.8 329.3h5.8l-2.9 -5.2zM228.5 330.5h5.8l-2.9 -5.2zM229.2 331.6h5.8l-2.9 -5.2zM229.9 332.7h5.8l-2.9 -5.2zM230.5 333.7h5.8l-2.9 -5.2zM231.2 334.6h5.8l-2.9 -5.2zM231.9 335.5h5.8l-2.9 -5.2zM232.6 336.4h5.8l-2.9 -5.2zM233.3 337.2h5.8l-2.9 -5.2zM234.0 338.0h5.8l-2.9 -5.2zM234.7 338.7h5.8l-2.9 -5.2zM235.4 339.4h5.8l-2.9 -5.2zM236.1 340.1h5.8l-2.9 -5.2zM236.8 340.7h5.8l-2.9 -5.2zM237.5 341.3h5.8l-2.9 -5.2zM238.2 341.9h5.8l-2.9 -5.2zM238.8 342.4h5.8l-2.9 -5.2zM239.5 342.9h5.8l-2.9 -5.2zM240.2 343.4h5.8l-2.9 -5.2zM240.9 343.9h5.8l-2.9 -5.2zM241.6 344.3h5.8l-2.9 -5.2zM242.3 344.8h5.8l-2.9 -5.2zM243.0 345.2h5.8l-2.9 -5.2zM243.7 345.6h5.8l-2.9 -5.2zM244.4 345.9h5.8l-2.9 -5.2zM245.1 346.3h5.8l-2.9 -5.2zM245.8 346.6h5.8l-2.9 -5.2zM246.4 347.0h5.8l-2.9 -5.2zM247.1 347.3h5.8l-2.9 -5.2zM247.8 347.6h5.8l-2.9 -5.2zM248.5 347.9h5.8l-2.9 -5.2zM249.2 348.1h5.8l-2.9 -5.2zM249.9 348.4h5.8l-2.9 -5.2zM250.6 348.6h5.8l-2.9 -5.2zM251.3 348.9h5.8l-2.9 -5.2zM252.0 349.1h5.8l-2.9 -5.2zM252.7 349.3h5.8l-2.9 -5.2zM253.4 349.5h5.8l-2.9 -5.2zM254.0 349.7h5.8l-2.9 -5.2zM254.7 349.9h5.8l-2.9 -5.2zM255.4 350.1h5.8l-2.9 -5.2zM256.1 350.3h5.8l-2.9 -5.2zM256.8 350.4h5.8l-2.9 -5.2zM257.5 350.6h5.8l-2.9 -5.2zM258.2 350.8h5.8l-2.9 -5.2zM258.9 350.9h5.8l-2.9 -5.2zM259.6 351.1h5.8l-2.9 -5.2zM260.3 351.2h5.8l-2.9 -5.2zM261.0 351.3h5.8l-2.9 -5.2zM261.7 351.5h5.8l-2.9 -5.2zM262.3 351.6h5.8l-2.9 -5.2zM263.0 351.7h5.8l-2.9 -5.2zM263.7 351.8h5.8l-2.9 -5.2zM264.8 352.0h5.8l-2.9 -5.2zM265.8 352.1h5.8l-2.9 -5.2zM266.8 352.3h5.8l-2.9 -5.2zM267.9 352.4h5.8l-2.9 -5.2zM268.9 352.5h5.8l-2.9 -5.2zM269.9 352.6h5.8l-2.9 -5.2zM271.0 352.8h5.8l-2.9 -5.2zM272.0 352.9h5.8l-2.9 -5.2zM273.1 353.0h5.8l-2.9 -5.2zM274.1 353.1h5.8l-2.9 -5.2zM275.1 353.2h5.8l-2.9 -5.2zM276.2 353.3h5.8l-2.9 -5.2zM277.2 353.3h5.8l-2.9 -5.2zM278.2 353.4h5.8l-2.9 -5.2zM279.3 353.5h5.8l-2.9 -5.2zM280.3 353.6h5.8l-2.9 -5.2zM281.3 353.6h5.8l-2.9 -5.2zM282.4 353.7h5.8l-2.9 -5.2zM283.4 353.8h5.8l-2.9 -5.2zM284.5 353.8h5.8l-2.9 -5.2zM285.5 353.9h5.8l-2.9 -5.2zM286.5 353.9h5.8l-2.9 -5.2zM287.6 354.0h5.8l-2.9 -5.2zM288.6 354.0h5.8l-2.9 -5.2zM289.6 354.1h5.8l-2.9 -5.2zM290.7 354.1h5.8l-2.9 -5.2zM291.7 354.2h5.8l-2.9 -5.2zM292.8 354.2h5.8l-2.9 -5.2zM293.8 354.2h5.8l-2.9 -5.2zM294.8 354.3h5.8l-2.9 -5.2zM295.9 354.3h5.8l-2.9 -5.2zM296.9 354.3h5.8l-2.9 -5.2zM297.9 354.4h5.8l-2.9 -5.2zM299.0 354.4h5.8l-2.9 -5.2zM300.0 354.4h5.8l-2.9 -5.2zM301.0 354.4h5.8l-2.9 -5.2zM302.1 354.5h5.8l-2.9 -5.2zM303.1 354.5h5.8l-2.9 -5.2zM304.2 354.5h5.8l-2.9 -5.2zM305.2 354.5h5.8l-2.9 -5.2zM306.2 354.6h5.8l-2.9 -5.2zM307.3 354.6h5.8l-2.9 -5.2zM308.3 354.6h5.8l-2.9 -5.2zM309.3 354.6h5.8l-2.9 -5.2zM310.4 354.6h5.8l-2.9 -5.2zM311.4 354.7h5.8l-2.9 -5.2zM312.5 354.7h5.8l-2.9 -5.2zM313.5 354.7h5.8l-2.9 -5.2zM314.5 354.7h5.8l-2.9 -5.2zM315.6 354.7h5.8l-2.9 -5.2zM316.6 354.7h5.8l-2.9 -5.2zM317.6 354.8h5.8l-2.9 -5.2zM318.7 354.8h5.8l-2.9 -5.2zM319.7 354.8h5.8l-2.9 -5.2zM320.7 354.8h5.8l-2.9 -5.2zM321.8 354.8h5.8l-2.9 -5.2zM322.8 354.8h5.8l-2.9 -5.2zM323.9 354.8h5.8l-2.9 -5.2zM324.9 354.8h5.8l-2.9 -5.2zM325.9 354.9h5.8l-2.9 -5.2zM327.0 354.9h5.8l-2.9 -5.2zM328.0 354.9h5.8l-2.9 -5.2zM329.0 354.9h5.8l-2.9 -5.2zM330.1 354.9h5.8l-2.9 -5.2zM331.1 354.9h5.8l-2.9 -5.2zM332.1 354.9h5.8l-2.9 -5.2zM333.2 354.9h5.8l-2.9 -5.2zM334.2 354.9h5.8l-2.9 -5.2zM335.3 354.9h5.8l-2.9 -5.2zM336.3 354.9h5.8l-2.9 -5.2zM337.3 354.9h5.8l-2.9 -5.2zM338.4 355.0h5.8l-2.9 -5.2zM339.4 355.0h5.8l-2.9 -5.2zM340.4 355.0h5.8l-2.9 -5.2zM341.5 355.0h5.8l-2.9 -5.2zM342.5 355.0h5.8l-2.9 -5.2zM343.6 355.0h5.8l-2.9 -5.2zM344.6 355.0h5.8l-2.9 -5.2zM345.6 355.0h5.8l-2.9 -5.2zM346.7 355.0h5.8l-2.9 -5.2zM347.7 355.0h5.8l-2.9 -5.2zM348.7 355.0h5.8l-2.9 -5.2zM349.8 355.0h5.8l-2.9 -5.2zM350.8 355.0h5.8l-2.9 -5.2zM351.8 355.0h5.8l-2.9 -5.2zM352.9 355.0h5.8l-2.9 -5.2zM353.9 355.0h5.8l-2.9 -5.2zM355.0 355.0h5.8l-2.9 -5.2zM356.0 355.0h5.8l-2.9 -5.2zM357.0 355.0h5.8l-2.9 -5.2zM358.1 355.0h5.8l-2.9 -5.2zM359.1 355.0h5.8l-2.9 -5.2zM360.1 355.0h5.8l-2.9 -5.2zM361.2 355.1h5.8l-2.9 -5.2zM362.2 355.1h5.8l-2.9 -5.2zM363.3 355.1h5.8l-2.9 -5.2zM364.3 355.1h5.8l-2.9 -5.2zM365.3 355.1h5.8l-2.9 -5.2zM366.4 355.1h5.8l-2.9 -5.2zM367.4 355.1h5.8l-2.9 -5.2zM368.4 355.1h5.8l-2.9 -5.2zM369.5 355.1h5.8l-2.9 -5.2zM370.5 355.1h5.8l-2.9 -5.2zM371.5 355.1h5.8l-2.9 -5.2zM372.6 355.1h5.8l-2.9 -5.2zM373.6 355.1h5.8l-2.9 -5.2zM374.7 355.1h5.8l-2.9 -5.2zM375.7 355.1h5.8l-2.9 -5.2zM376.7 355.1h5.8l-2.9 -5.2zM377.8 355.1h5.8l-2.9 -5.2zM378.8 355.1h5.8l-2.9 -5.2zM379.8 355.1h5.8l-2.9 -5.2zM380.9 355.1h5.8l-2.9 -5.2zM381.9 355.1h5.8l-2.9 -5.2zM382.9 355.1h5.8l-2.9 -5.2zM384.0 355.1h5.8l-2.9 -5.2zM385.0 355.1h5.8l-2.9 -5.2zM386.1 355.1h5.8l-2.9 -5.2zM387.1 355.1h5.8l-2.9 -5.2zM388.1 355.1h5.8l-2.9 -5.2zM389.2 355.1h5.8l-2.9 -5.2zM390.2 355.1h5.8l-2.9 -5.2zM391.2 355.1h5.8l-2.9 -5.2zM392.3 355.1h5.8l-2.9 -5.2zM393.3 355.1h5.8l-2.9 -5.2zM394.4 355.1h5.8l-2.9 -5.2zM395.4 355.1h5.8l-2.9 -5.2zM396.4 355.1h5.8l-2.9 -5.2zM397.5 355.1h5.8l-2.9 -5.2zM398.5 355.1h5.8l-2.9 -5.2zM399.5 355.1h5.8l-2.9 -5.2zM400.6 355.1h5.8l-2.9 -5.2zM401.6 355.1h5.8l-2.9 -5.2zM402.6 355.1h5.8l-2.9 -5.2zM403.7 355.1h5.8l-2.9 -5.2zM404.7 355.1h5.8l-2.9 -5.2zM405.8 355.1h5.8l-2.9 -5.2zM406.8 355.1h5.8l-2.9 -5.2zM407.8 355.1h5.8l-2.9 -5.2zM408.9 355.1h5.8l-2.9 -5.2zM409.9 355.1h5.8l-2.9 -5.2zM410.9 355.1h5.8l-2.9 -5.2zM412.0 355.1h5.8l-2.9 -5.2zM413.0 355.1h5.8l-2.9 -5.2zM414.1 355.1h5.8l-2.9 -5.2zM415.1 355.1h5.8l-2.9 -5.2zM416.1 355.1h5.8l-2.9 -5.2zM417.2 355.1h5.8l-2.9 -5.2zM418.2 355.1h5.8l-2.9 -5.2zM419.2 355.1h5.8l-2.9 -5.2zM420.3 355.1h5.8l-2.9 -5.2zM421.3 355.1h5.8l-2.9 -5.2zM422.3 355.1h5.8l-2.9 -5.2zM423.4 355.1h5.8l-2.9 -5.2zM424.4 355.1h5.8l-2.9 -5.2zM425.5 355.1h5.8l-2.9 -5.2zM426.5 355.1h5.8l-2.9 -5.2zM427.5 355.1h5.8l-2.9 -5.2zM428.6 355.1h5.8l-2.9 -5.2zM429.6 355.1h5.8l-2.9 -5.2zM430.6 355.1h5.8l-2.9 -5.2zM431.7 355.1h5.8l-2.9 -5.2zM432.7 355.1h5.8l-2.9 -5.2zM433.7 355.1h5.8l-2.9 -5.2zM434.8 355.1h5.8l-2.9 -5.2zM435.8 355.2h5.8l-2.9 -5.2zM436.9 355.2h5.8l-2.9 -5.2zM437.9 355.2h5.8l-2.9 -5.2zM438.9 355.2h5.8l-2.9 -5.2z"/><path fill="#2a1680" d="M222.8 -9.9h5.8l-2.9 5.2zM223.2 -1.1h5.8l-2.9 5.2zM223.6 7.4h5.8l-2.9 5.2zM224.0 15.7h5.8l-2.9 5.2zM224.4 23.8h5.8l-2.9 5.2zM224.8 31.7h5.8l-2.9 5.2zM225.2 39.4h5.8l-2.9 5.2zM225.6 46.9h5.8l-2.9 5.2zM225.9 54.2h5.8l-2.9 5.2zM226.3 61.3h5.8l-2.9 5.2zM226.7 68.2h5.8l-2.9 5.2zM227.1 74.9h5.8l-2.9 5.2zM227.5 81.5h5.8l-2.9 5.2zM227.9 87.9h5.8l-2.9 5.2zM228.3 94.1h5.8l-2.9 5.2zM228.7 100.1h5.8l-2.9 5.2zM229.1 106.0h5.8l-2.9 5.2zM229.5 111.8h5.8l-2.9 5.2zM229.9 117.4h5.8l-2.9 5.2zM230.3 122.8h5.8l-2.9 5.2zM230.7 128.2h5.8l-2.9 5.2zM231.1 133.4h5.8l-2.9 5.2zM231.5 138.4h5.8l-2.9 5.2zM231.9 143.3h5.8l-2.9 5.2zM232.3 148.1h5.8l-2.9 5.2zM232.7 152.8h5.8l-2.9 5.2zM233.1 157.4h5.8l-2.9 5.2zM233.5 161.8h5.8l-2.9 5.2zM233.8 166.1h5.8l-2.9 5.2zM234.2 170.4h5.8l-2.9 5.2zM234.6 174.5h5.8l-2.9 5.2zM235.0 178.5h5.8l-2.9 5.2zM235.4 182.4h5.8l-2.9 5.2zM235.8 186.2h5.8l-2.9 5.2zM236.2 189.9h5.8l-2.9 5.2zM236.6 193.6h5.8l-2.9 5.2zM237.0 197.1h5.8l-2.9 5.2zM237.4 200.6h5.8l-2.9 5.2zM237.8 203.9h5.8l-2.9 5.2zM238.2 207.2h5.8l-2.9 5.2zM238.6 210.4h5.8l-2.9 5.2zM239.0 213.5h5.8l-2.9 5.2zM239.4 216.6h5.8l-2.9 5.2zM239.8 219.6h5.8l-2.9 5.2zM240.2 222.5h5.8l-2.9 5.2zM240.6 225.3h5.8l-2.9 5.2zM241.0 228.1h5.8l-2.9 5.2zM241.3 230.7h5.8l-2.9 5.2zM241.7 233.4h5.8l-2.9 5.2zM242.1 235.9h5.8l-2.9 5.2zM242.5 238.4h5.8l-2.9 5.2zM242.9 240.9h5.8l-2.9 5.2zM243.3 243.3h5.8l-2.9 5.2zM243.7 245.6h5.8l-2.9 5.2zM244.1 247.9h5.8l-2.9 5.2zM244.5 250.1h5.8l-2.9 5.2zM244.9 252.3h5.8l-2.9 5.2zM245.3 254.4h5.8l-2.9 5.2zM245.7 256.5h5.8l-2.9 5.2zM246.1 258.5h5.8l-2.9 5.2zM246.5 260.4h5.8l-2.9 5.2zM246.9 262.4h5.8l-2.9 5.2zM247.3 264.2h5.8l-2.9 5.2zM247.7 266.1h5.8l-2.9 5.2zM248.1 267.9h5.8l-2.9 5.2zM248.5 269.6h5.8l-2.9 5.2zM248.9 271.3h5.8l-2.9 5.2zM249.2 273.0h5.8l-2.9 5.2zM249.6 274.6h5.8l-2.9 5.2zM250.0 276.2h5.8l-2.9 5.2zM250.4 277.8h5.8l-2.9 5.2zM250.8 279.3h5.8l-2.9 5.2zM251.2 280.8h5.8l-2.9 5.2zM251.6 282.2h5.8l-2.9 5.2zM252.0 283.6h5.8l-2.9 5.2zM252.4 285.0h5.8l-2.9 5.2zM252.8 286.4h5.8l-2.9 5.2zM253.2 287.7h5.8l-2.9 5.2zM253.6 289.0h5.8l-2.9 5.2zM254.0 290.3h5.8l-2.9 5.2zM254.4 291.5h5.8l-2.9 5.2zM254.8 292.7h5.8l-2.9 5.2zM255.2 293.9h5.8l-2.9 5.2zM255.6 295.0h5.8l-2.9 5.2zM256.0 296.2h5.8l-2.9 5.2zM256.4 297.3h5.8l-2.9 5.2zM256.8 298.3h5.8l-2.9 5.2zM257.1 299.4h5.8l-2.9 5.2zM257.5 300.4h5.8l-2.9 5.2zM257.9 301.4h5.8l-2.9 5.2zM258.3 302.4h5.8l-2.9 5.2zM258.7 303.4h5.8l-2.9 5.2zM259.1 304.3h5.8l-2.9 5.2zM259.5 305.2h5.8l-2.9 5.2zM259.9 306.1h5.8l-2.9 5.2zM260.3 307.0h5.8l-2.9 5.2zM260.7 307.9h5.8l-2.9 5.2zM261.1 308.7h5.8l-2.9 5.2zM261.5 309.6h5.8l-2.9 5.2zM261.9 310.4h5.8l-2.9 5.2zM262.3 311.2h5.8l-2.9 5.2zM262.7 311.9h5.8l-2.9 5.2zM263.1 312.7h5.8l-2.9 5.2zM263.5 313.4h5.8l-2.9 5.2zM263.9 314.1h5.8l-2.9 5.2zM264.3 314.9h5.8l-2.9 5.2zM264.6 315.6h5.8l-2.9 5.2zM265.0 316.2h5.8l-2.9 5.2zM265.4 316.9h5.8l-2.9 5.2zM265.8 317.5h5.8l-2.9 5.2zM266.2 318.2h5.8l-2.9 5.2zM266.6 318.8h5.8l-2.9 5.2zM267.0 319.4h5.8l-2.9 5.2zM267.4 320.0h5.8l-2.9 5.2zM267.8 320.6h5.8l-2.9 5.2zM268.6 321.7h5.8l-2.9 5.2zM269.4 322.8h5.8l-2.9 5.2zM270.2 323.8h5.8l-2.9 5.2zM271.0 324.8h5.8l-2.9 5.2zM271.8 325.8h5.8l-2.9 5.2zM272.5 326.7h5.8l-2.9 5.2zM273.3 327.6h5.8l-2.9 5.2zM274.1 328.4h5.8l-2.9 5.2zM274.9 329.2h5.8l-2.9 5.2zM275.7 330.0h5.8l-2.9 5.2zM276.5 330.8h5.8l-2.9 5.2zM277.3 331.5h5.8l-2.9 5.2zM278.1 332.2h5.8l-2.9 5.2zM278.9 332.8h5.8l-2.9 5.2zM279.7 333.5h5.8l-2.9 5.2zM280.4 334.1h5.8l-2.9 5.2zM281.2 334.7h5.8l-2.9 5.2zM282.0 335.2h5.8l-2.9 5.2zM282.8 335.8h5.8l-2.9 5.2zM283.6 336.3h5.8l-2.9 5.2zM284.4 336.8h5.8l-2.9 5.2zM285.2 337.3h5.8l-2.9 5.2zM286.0 337.7h5.8l-2.9 5.2zM286.8 338.2h5.8l-2.9 5.2zM287.6 338.6h5.8l-2.9 5.2zM288.3 339.0h5.8l-2.9 5.2zM289.1 339.4h5.8l-2.9 5.2zM289.9 339.8h5.8l-2.9 5.2zM290.7 340.2h5.8l-2.9 5.2zM291.5 340.5h5.8l-2.9 5.2zM292.3 340.9h5.8l-2.9 5.2zM293.1 341.2h5.8l-2.9 5.2zM293.9 341.5h5.8l-2.9 5.2zM294.7 341.8h5.8l-2.9 5.2zM295.4 342.1h5.8l-2.9 5.2zM296.2 342.4h5.8l-2.9 5.2zM297.0 342.7h5.8l-2.9 5.2zM297.8 342.9h5.8l-2.9 5.2zM298.6 343.2h5.8l-2.9 5.2zM299.4 343.4h5.8l-2.9 5.2zM300.2 343.7h5.8l-2.9 5.2zM301.0 343.9h5.8l-2.9 5.2zM301.8 344.1h5.8l-2.9 5.2zM302.6 344.3h5.8l-2.9 5.2zM303.3 344.5h5.8l-2.9 5.2zM304.1 344.7h5.8l-2.9 5.2zM304.9 344.9h5.8l-2.9 5.2zM305.7 345.1h5.8l-2.9 5.2zM306.5 345.3h5.8l-2.9 5.2zM307.3 345.5h5.8l-2.9 5.2zM308.1 345.6h5.8l-2.9 5.2zM308.9 345.8h5.8l-2.9 5.2zM309.7 345.9h5.8l-2.9 5.2zM310.5 346.1h5.8l-2.9 5.2zM311.2 346.2h5.8l-2.9 5.2zM312.0 346.4h5.8l-2.9 5.2zM312.8 346.5h5.8l-2.9 5.2zM313.6 346.6h5.8l-2.9 5.2zM314.4 346.8h5.8l-2.9 5.2zM315.2 346.9h5.8l-2.9 5.2zM316.0 347.0h5.8l-2.9 5.2zM316.8 347.1h5.8l-2.9 5.2zM317.6 347.2h5.8l-2.9 5.2zM318.4 347.3h5.8l-2.9 5.2zM319.1 347.5h5.8l-2.9 5.2zM319.9 347.6h5.8l-2.9 5.2zM320.7 347.6h5.8l-2.9 5.2zM321.5 347.7h5.8l-2.9 5.2zM322.3 347.8h5.8l-2.9 5.2zM323.1 347.9h5.8l-2.9 5.2zM323.9 348.0h5.8l-2.9 5.2zM324.7 348.1h5.8l-2.9 5.2zM325.5 348.2h5.8l-2.9 5.2zM326.3 348.2h5.8l-2.9 5.2zM327.0 348.3h5.8l-2.9 5.2zM327.8 348.4h5.8l-2.9 5.2zM328.6 348.5h5.8l-2.9 5.2zM329.4 348.5h5.8l-2.9 5.2zM330.2 348.6h5.8l-2.9 5.2zM331.0 348.7h5.8l-2.9 5.2zM331.8 348.7h5.8l-2.9 5.2zM332.6 348.8h5.8l-2.9 5.2zM333.4 348.8h5.8l-2.9 5.2zM334.1 348.9h5.8l-2.9 5.2zM334.9 349.0h5.8l-2.9 5.2zM335.7 349.0h5.8l-2.9 5.2zM336.5 349.1h5.8l-2.9 5.2zM337.3 349.1h5.8l-2.9 5.2zM338.1 349.2h5.8l-2.9 5.2zM338.9 349.2h5.8l-2.9 5.2zM339.7 349.3h5.8l-2.9 5.2zM340.5 349.3h5.8l-2.9 5.2zM341.3 349.3h5.8l-2.9 5.2zM342.0 349.4h5.8l-2.9 5.2zM342.8 349.4h5.8l-2.9 5.2zM343.6 349.5h5.8l-2.9 5.2zM344.4 349.5h5.8l-2.9 5.2zM345.2 349.5h5.8l-2.9 5.2zM346.0 349.6h5.8l-2.9 5.2zM346.8 349.6h5.8l-2.9 5.2zM347.6 349.6h5.8l-2.9 5.2zM348.4 349.7h5.8l-2.9 5.2zM349.2 349.7h5.8l-2.9 5.2zM349.9 349.7h5.8l-2.9 5.2zM350.7 349.8h5.8l-2.9 5.2zM351.5 349.8h5.8l-2.9 5.2zM352.3 349.8h5.8l-2.9 5.2zM353.1 349.9h5.8l-2.9 5.2zM353.9 349.9h5.8l-2.9 5.2zM354.7 349.9h5.8l-2.9 5.2zM355.5 349.9h5.8l-2.9 5.2zM356.3 350.0h5.8l-2.9 5.2zM357.1 350.0h5.8l-2.9 5.2zM357.8 350.0h5.8l-2.9 5.2zM358.6 350.0h5.8l-2.9 5.2zM359.4 350.1h5.8l-2.9 5.2zM360.2 350.1h5.8l-2.9 5.2zM361.0 350.1h5.8l-2.9 5.2zM361.8 350.1h5.8l-2.9 5.2zM362.6 350.1h5.8l-2.9 5.2zM363.4 350.2h5.8l-2.9 5.2zM364.2 350.2h5.8l-2.9 5.2zM365.0 350.2h5.8l-2.9 5.2zM365.7 350.2h5.8l-2.9 5.2zM366.5 350.2h5.8l-2.9 5.2zM367.3 350.3h5.8l-2.9 5.2zM368.1 350.3h5.8l-2.9 5.2zM368.9 350.3h5.8l-2.9 5.2zM369.7 350.3h5.8l-2.9 5.2zM370.5 350.3h5.8l-2.9 5.2zM371.3 350.3h5.8l-2.9 5.2zM372.1 350.4h5.8l-2.9 5.2zM372.8 350.4h5.8l-2.9 5.2zM373.6 350.4h5.8l-2.9 5.2zM374.4 350.4h5.8l-2.9 5.2zM375.2 350.4h5.8l-2.9 5.2zM376.0 350.4h5.8l-2.9 5.2zM376.8 350.4h5.8l-2.9 5.2zM377.6 350.4h5.8l-2.9 5.2zM378.4 350.5h5.8l-2.9 5.2zM379.2 350.5h5.8l-2.9 5.2zM380.0 350.5h5.8l-2.9 5.2zM380.7 350.5h5.8l-2.9 5.2zM381.5 350.5h5.8l-2.9 5.2zM382.3 350.5h5.8l-2.9 5.2zM383.1 350.5h5.8l-2.9 5.2zM383.9 350.5h5.8l-2.9 5.2zM384.7 350.5h5.8l-2.9 5.2zM385.5 350.5h5.8l-2.9 5.2zM386.3 350.6h5.8l-2.9 5.2zM387.1 350.6h5.8l-2.9 5.2zM387.9 350.6h5.8l-2.9 5.2zM388.6 350.6h5.8l-2.9 5.2zM389.4 350.6h5.8l-2.9 5.2zM390.2 350.6h5.8l-2.9 5.2zM391.0 350.6h5.8l-2.9 5.2zM391.8 350.6h5.8l-2.9 5.2zM392.6 350.6h5.8l-2.9 5.2zM393.4 350.6h5.8l-2.9 5.2zM394.2 350.6h5.8l-2.9 5.2zM395.0 350.6h5.8l-2.9 5.2zM395.8 350.7h5.8l-2.9 5.2zM396.5 350.7h5.8l-2.9 5.2zM397.3 350.7h5.8l-2.9 5.2zM398.1 350.7h5.8l-2.9 5.2zM398.9 350.7h5.8l-2.9 5.2zM399.7 350.7h5.8l-2.9 5.2zM400.5 350.7h5.8l-2.9 5.2zM401.3 350.7h5.8l-2.9 5.2zM402.1 350.7h5.8l-2.9 5.2zM402.9 350.7h5.8l-2.9 5.2zM403.6 350.7h5.8l-2.9 5.2zM404.4 350.7h5.8l-2.9 5.2zM405.2 350.7h5.8l-2.9 5.2zM406.0 350.7h5.8l-2.9 5.2zM406.8 350.7h5.8l-2.9 5.2zM407.6 350.7h5.8l-2.9 5.2zM408.4 350.7h5.8l-2.9 5.2zM409.2 350.8h5.8l-2.9 5.2zM410.0 350.8h5.8l-2.9 5.2zM410.8 350.8h5.8l-2.9 5.2zM411.5 350.8h5.8l-2.9 5.2zM412.3 350.8h5.8l-2.9 5.2zM413.1 350.8h5.8l-2.9 5.2zM413.9 350.8h5.8l-2.9 5.2zM414.7 350.8h5.8l-2.9 5.2zM415.5 350.8h5.8l-2.9 5.2zM416.3 350.8h5.8l-2.9 5.2zM417.1 350.8h5.8l-2.9 5.2zM417.9 350.8h5.8l-2.9 5.2zM418.7 350.8h5.8l-2.9 5.2zM419.4 350.8h5.8l-2.9 5.2zM420.2 350.8h5.8l-2.9 5.2zM421.0 350.8h5.8l-2.9 5.2zM421.8 350.8h5.8l-2.9 5.2zM422.6 350.8h5.8l-2.9 5.2zM423.4 350.8h5.8l-2.9 5.2zM424.2 350.8h5.8l-2.9 5.2zM425.0 350.8h5.8l-2.9 5.2zM425.8 350.8h5.8l-2.9 5.2zM426.6 350.8h5.8l-2.9 5.2zM427.3 350.8h5.8l-2.9 5.2zM428.1 350.8h5.8l-2.9 5.2zM428.9 350.8h5.8l-2.9 5.2zM429.7 350.8h5.8l-2.9 5.2zM430.5 350.8h5.8l-2.9 5.2zM431.3 350.9h5.8l-2.9 5.2zM432.1 350.9h5.8l-2.9 5.2zM432.9 350.9h5.8l-2.9 5.2zM433.7 350.9h5.8l-2.9 5.2zM434.5 350.9h5.8l-2.9 5.2zM435.2 350.9h5.8l-2.9 5.2zM436.0 350.9h5.8l-2.9 5.2zM436.8 350.9h5.8l-2.9 5.2zM437.6 350.9h5.8l-2.9 5.2zM438.4 350.9h5.8l-2.9 5.2zM439.2 350.9h5.8l-2.9 5.2z"/><path fill="#4fb0ae" d="M252.8 -11.6l3.0 3.0l-3.0 3.0l-3.0 -3.0zM253.1 -4.6l3.0 3.0l-3.0 3.0l-3.0 -3.0zM253.5 2.3l3.0 3.0l-3.0 3.0l-3.0 -3.0zM253.9 9.0l3.0 3.0l-3.0 3.0l-3.0 -3.0zM254.3 15.6l3.0 3.0l-3.0 3.0l-3.0 -3.0zM254.6 22.0l3.0 3.0l-3.0 3.0l-3.0 -3.0zM255.0 28.3l3.0 3.0l-3.0 3.0l-3.0 -3.0zM255.4 34.4l3.0 3.0l-3.0 3.0l-3.0 -3.0zM255.8 40.4l3.0 3.0l-3.0 3.0l-3.0 -3.0zM256.1 46.3l3.0 3.0l-3.0 3.0l-3.0 -3.0zM256.5 52.1l3.0 3.0l-3.0 3.0l-3.0 -3.0zM256.9 57.7l3.0 3.0l-3.0 3.0l-3.0 -3.0zM257.3 63.2l3.0 3.0l-3.0 3.0l-3.0 -3.0zM257.6 68.6l3.0 3.0l-3.0 3.0l-3.0 -3.0zM258.0 73.9l3.0 3.0l-3.0 3.0l-3.0 -3.0zM258.4 79.0l3.0 3.0l-3.0 3.0l-3.0 -3.0zM258.8 84.1l3.0 3.0l-3.0 3.0l-3.0 -3.0zM259.2 89.0l3.0 3.0l-3.0 3.0l-3.0 -3.0zM259.5 93.8l3.0 3.0l-3.0 3.0l-3.0 -3.0zM259.9 98.6l3.0 3.0l-3.0 3.0l-3.0 -3.0zM260.3 103.2l3.0 3.0l-3.0 3.0l-3.0 -3.0zM260.7 107.7l3.0 3.0l-3.0 3.0l-3.0 -3.0zM261.0 112.2l3.0 3.0l-3.0 3.0l-3.0 -3.0zM261.4 116.5l3.0 3.0l-3.0 3.0l-3.0 -3.0zM261.8 120.7l3.0 3.0l-3.0 3.0l-3.0 -3.0zM262.2 124.9l3.0 3.0l-3.0 3.0l-3.0 -3.0zM262.5 129.0l3.0 3.0l-3.0 3.0l-3.0 -3.0zM262.9 133.0l3.0 3.0l-3.0 3.0l-3.0 -3.0zM263.3 136.9l3.0 3.0l-3.0 3.0l-3.0 -3.0zM263.7 140.7l3.0 3.0l-3.0 3.0l-3.0 -3.0zM264.0 144.4l3.0 3.0l-3.0 3.0l-3.0 -3.0zM264.4 148.1l3.0 3.0l-3.0 3.0l-3.0 -3.0zM264.8 151.7l3.0 3.0l-3.0 3.0l-3.0 -3.0zM265.2 155.2l3.0 3.0l-3.0 3.0l-3.0 -3.0zM265.6 158.7l3.0 3.0l-3.0 3.0l-3.0 -3.0zM265.9 162.0l3.0 3.0l-3.0 3.0l-3.0 -3.0zM266.3 165.3l3.0 3.0l-3.0 3.0l-3.0 -3.0zM266.7 168.6l3.0 3.0l-3.0 3.0l-3.0 -3.0zM267.1 171.8l3.0 3.0l-3.0 3.0l-3.0 -3.0zM267.4 174.9l3.0 3.0l-3.0 3.0l-3.0 -3.0zM267.8 177.9l3.0 3.0l-3.0 3.0l-3.0 -3.0zM268.2 180.9l3.0 3.0l-3.0 3.0l-3.0 -3.0zM268.6 183.8l3.0 3.0l-3.0 3.0l-3.0 -3.0zM268.9 186.7l3.0 3.0l-3.0 3.0l-3.0 -3.0zM269.3 189.5l3.0 3.0l-3.0 3.0l-3.0 -3.0zM269.7 192.3l3.0 3.0l-3.0 3.0l-3.0 -3.0zM270.1 195.0l3.0 3.0l-3.0 3.0l-3.0 -3.0zM270.4 197.6l3.0 3.0l-3.0 3.0l-3.0 -3.0zM270.8 200.2l3.0 3.0l-3.0 3.0l-3.0 -3.0zM271.2 202.7l3.0 3.0l-3.0 3.0l-3.0 -3.0zM271.6 205.2l3.0 3.0l-3.0 3.0l-3.0 -3.0zM271.9 207.7l3.0 3.0l-3.0 3.0l-3.0 -3.0zM272.3 210.1l3.0 3.0l-3.0 3.0l-3.0 -3.0zM272.7 212.4l3.0 3.0l-3.0 3.0l-3.0 -3.0zM273.1 214.7l3.0 3.0l-3.0 3.0l-3.0 -3.0zM273.5 217.0l3.0 3.0l-3.0 3.0l-3.0 -3.0zM273.8 219.2l3.0 3.0l-3.0 3.0l-3.0 -3.0zM274.2 221.4l3.0 3.0l-3.0 3.0l-3.0 -3.0zM274.6 223.5l3.0 3.0l-3.0 3.0l-3.0 -3.0zM275.0 225.6l3.0 3.0l-3.0 3.0l-3.0 -3.0zM275.3 227.6l3.0 3.0l-3.0 3.0l-3.0 -3.0zM275.7 229.6l3.0 3.0l-3.0 3.0l-3.0 -3.0zM276.1 231.6l3.0 3.0l-3.0 3.0l-3.0 -3.0zM276.5 233.6l3.0 3.0l-3.0 3.0l-3.0 -3.0zM276.8 235.5l3.0 3.0l-3.0 3.0l-3.0 -3.0zM277.2 237.3l3.0 3.0l-3.0 3.0l-3.0 -3.0zM277.6 239.1l3.0 3.0l-3.0 3.0l-3.0 -3.0zM278.0 240.9l3.0 3.0l-3.0 3.0l-3.0 -3.0zM278.3 242.7l3.0 3.0l-3.0 3.0l-3.0 -3.0zM278.7 244.4l3.0 3.0l-3.0 3.0l-3.0 -3.0zM279.1 246.1l3.0 3.0l-3.0 3.0l-3.0 -3.0zM279.5 247.8l3.0 3.0l-3.0 3.0l-3.0 -3.0zM279.9 249.4l3.0 3.0l-3.0 3.0l-3.0 -3.0zM280.2 251.0l3.0 3.0l-3.0 3.0l-3.0 -3.0zM280.6 252.6l3.0 3.0l-3.0 3.0l-3.0 -3.0zM281.0 254.1l3.0 3.0l-3.0 3.0l-3.0 -3.0zM281.4 255.6l3.0 3.0l-3.0 3.0l-3.0 -3.0zM281.7 257.1l3.0 3.0l-3.0 3.0l-3.0 -3.0zM282.1 258.6l3.0 3.0l-3.0 3.0l-3.0 -3.0zM282.5 260.0l3.0 3.0l-3.0 3.0l-3.0 -3.0zM282.9 261.4l3.0 3.0l-3.0 3.0l-3.0 -3.0zM283.2 262.8l3.0 3.0l-3.0 3.0l-3.0 -3.0zM283.6 264.1l3.0 3.0l-3.0 3.0l-3.0 -3.0zM284.0 265.5l3.0 3.0l-3.0 3.0l-3.0 -3.0zM284.4 266.8l3.0 3.0l-3.0 3.0l-3.0 -3.0zM284.7 268.1l3.0 3.0l-3.0 3.0l-3.0 -3.0zM285.1 269.3l3.0 3.0l-3.0 3.0l-3.0 -3.0zM285.5 270.6l3.0 3.0l-3.0 3.0l-3.0 -3.0zM285.9 271.8l3.0 3.0l-3.0 3.0l-3.0 -3.0zM286.2 273.0l3.0 3.0l-3.0 3.0l-3.0 -3.0zM286.6 274.1l3.0 3.0l-3.0 3.0l-3.0 -3.0zM287.0 275.3l3.0 3.0l-3.0 3.0l-3.0 -3.0zM287.4 276.4l3.0 3.0l-3.0 3.0l-3.0 -3.0zM287.8 277.5l3.0 3.0l-3.0 3.0l-3.0 -3.0zM288.1 278.6l3.0 3.0l-3.0 3.0l-3.0 -3.0zM288.5 279.7l3.0 3.0l-3.0 3.0l-3.0 -3.0zM288.9 280.7l3.0 3.0l-3.0 3.0l-3.0 -3.0zM289.3 281.8l3.0 3.0l-3.0 3.0l-3.0 -3.0zM289.6 282.8l3.0 3.0l-3.0 3.0l-3.0 -3.0zM290.0 283.8l3.0 3.0l-3.0 3.0l-3.0 -3.0zM290.4 284.8l3.0 3.0l-3.0 3.0l-3.0 -3.0zM290.8 285.7l3.0 3.0l-3.0 3.0l-3.0 -3.0zM291.1 286.7l3.0 3.0l-3.0 3.0l-3.0 -3.0zM291.5 287.6l3.0 3.0l-3.0 3.0l-3.0 -3.0zM291.9 288.5l3.0 3.0l-3.0 3.0l-3.0 -3.0zM292.3 289.4l3.0 3.0l-3.0 3.0l-3.0 -3.0zM292.6 290.3l3.0 3.0l-3.0 3.0l-3.0 -3.0zM293.0 291.2l3.0 3.0l-3.0 3.0l-3.0 -3.0zM293.4 292.0l3.0 3.0l-3.0 3.0l-3.0 -3.0zM293.8 292.9l3.0 3.0l-3.0 3.0l-3.0 -3.0zM294.2 293.7l3.0 3.0l-3.0 3.0l-3.0 -3.0zM294.5 294.5l3.0 3.0l-3.0 3.0l-3.0 -3.0zM294.9 295.3l3.0 3.0l-3.0 3.0l-3.0 -3.0zM295.3 296.1l3.0 3.0l-3.0 3.0l-3.0 -3.0zM295.7 296.9l3.0 3.0l-3.0 3.0l-3.0 -3.0zM296.0 297.6l3.0 3.0l-3.0 3.0l-3.0 -3.0zM296.4 298.4l3.0 3.0l-3.0 3.0l-3.0 -3.0zM296.8 299.1l3.0 3.0l-3.0 3.0l-3.0 -3.0zM297.2 299.8l3.0 3.0l-3.0 3.0l-3.0 -3.0zM297.5 300.5l3.0 3.0l-3.0 3.0l-3.0 -3.0zM297.9 301.2l3.0 3.0l-3.0 3.0l-3.0 -3.0zM298.3 301.9l3.0 3.0l-3.0 3.0l-3.0 -3.0zM298.7 302.6l3.0 3.0l-3.0 3.0l-3.0 -3.0zM299.0 303.3l3.0 3.0l-3.0 3.0l-3.0 -3.0zM299.4 303.9l3.0 3.0l-3.0 3.0l-3.0 -3.0zM299.8 304.6l3.0 3.0l-3.0 3.0l-3.0 -3.0zM300.2 305.2l3.0 3.0l-3.0 3.0l-3.0 -3.0zM300.5 305.8l3.0 3.0l-3.0 3.0l-3.0 -3.0zM300.9 306.4l3.0 3.0l-3.0 3.0l-3.0 -3.0zM301.3 307.0l3.0 3.0l-3.0 3.0l-3.0 -3.0zM301.7 307.6l3.0 3.0l-3.0 3.0l-3.0 -3.0zM302.4 308.8l3.0 3.0l-3.0 3.0l-3.0 -3.0zM303.2 309.9l3.0 3.0l-3.0 3.0l-3.0 -3.0zM303.9 311.0l3.0 3.0l-3.0 3.0l-3.0 -3.0zM304.7 312.0l3.0 3.0l-3.0 3.0l-3.0 -3.0zM305.4 313.0l3.0 3.0l-3.0 3.0l-3.0 -3.0zM306.2 314.0l3.0 3.0l-3.0 3.0l-3.0 -3.0zM306.9 315.0l3.0 3.0l-3.0 3.0l-3.0 -3.0zM307.7 315.9l3.0 3.0l-3.0 3.0l-3.0 -3.0zM308.5 316.8l3.0 3.0l-3.0 3.0l-3.0 -3.0zM309.2 317.6l3.0 3.0l-3.0 3.0l-3.0 -3.0zM310.0 318.5l3.0 3.0l-3.0 3.0l-3.0 -3.0zM310.7 319.3l3.0 3.0l-3.0 3.0l-3.0 -3.0zM311.5 320.1l3.0 3.0l-3.0 3.0l-3.0 -3.0zM312.2 320.9l3.0 3.0l-3.0 3.0l-3.0 -3.0zM313.0 321.6l3.0 3.0l-3.0 3.0l-3.0 -3.0zM313.7 322.3l3.0 3.0l-3.0 3.0l-3.0 -3.0zM314.5 323.0l3.0 3.0l-3.0 3.0l-3.0 -3.0zM315.2 323.7l3.0 3.0l-3.0 3.0l-3.0 -3.0zM316.0 324.3l3.0 3.0l-3.0 3.0l-3.0 -3.0zM316.7 325.0l3.0 3.0l-3.0 3.0l-3.0 -3.0zM317.5 325.6l3.0 3.0l-3.0 3.0l-3.0 -3.0zM318.2 326.2l3.0 3.0l-3.0 3.0l-3.0 -3.0zM319.0 326.8l3.0 3.0l-3.0 3.0l-3.0 -3.0zM319.7 327.4l3.0 3.0l-3.0 3.0l-3.0 -3.0zM320.5 327.9l3.0 3.0l-3.0 3.0l-3.0 -3.0zM321.2 328.4l3.0 3.0l-3.0 3.0l-3.0 -3.0zM322.0 329.0l3.0 3.0l-3.0 3.0l-3.0 -3.0zM322.8 329.5l3.0 3.0l-3.0 3.0l-3.0 -3.0zM323.5 330.0l3.0 3.0l-3.0 3.0l-3.0 -3.0zM324.3 330.4l3.0 3.0l-3.0 3.0l-3.0 -3.0zM325.0 330.9l3.0 3.0l-3.0 3.0l-3.0 -3.0zM325.8 331.3l3.0 3.0l-3.0 3.0l-3.0 -3.0zM326.5 331.8l3.0 3.0l-3.0 3.0l-3.0 -3.0zM327.3 332.2l3.0 3.0l-3.0 3.0l-3.0 -3.0zM328.0 332.6l3.0 3.0l-3.0 3.0l-3.0 -3.0zM328.8 333.0l3.0 3.0l-3.0 3.0l-3.0 -3.0zM329.5 333.4l3.0 3.0l-3.0 3.0l-3.0 -3.0zM330.3 333.8l3.0 3.0l-3.0 3.0l-3.0 -3.0zM331.0 334.2l3.0 3.0l-3.0 3.0l-3.0 -3.0zM331.8 334.5l3.0 3.0l-3.0 3.0l-3.0 -3.0zM332.5 334.9l3.0 3.0l-3.0 3.0l-3.0 -3.0zM333.3 335.2l3.0 3.0l-3.0 3.0l-3.0 -3.0zM334.0 335.5l3.0 3.0l-3.0 3.0l-3.0 -3.0zM334.8 335.9l3.0 3.0l-3.0 3.0l-3.0 -3.0zM335.5 336.2l3.0 3.0l-3.0 3.0l-3.0 -3.0zM336.3 336.5l3.0 3.0l-3.0 3.0l-3.0 -3.0zM337.1 336.8l3.0 3.0l-3.0 3.0l-3.0 -3.0zM337.8 337.1l3.0 3.0l-3.0 3.0l-3.0 -3.0zM338.6 337.4l3.0 3.0l-3.0 3.0l-3.0 -3.0zM339.3 337.6l3.0 3.0l-3.0 3.0l-3.0 -3.0zM340.1 337.9l3.0 3.0l-3.0 3.0l-3.0 -3.0zM340.8 338.2l3.0 3.0l-3.0 3.0l-3.0 -3.0zM341.6 338.4l3.0 3.0l-3.0 3.0l-3.0 -3.0zM342.3 338.7l3.0 3.0l-3.0 3.0l-3.0 -3.0zM343.1 338.9l3.0 3.0l-3.0 3.0l-3.0 -3.0zM343.8 339.1l3.0 3.0l-3.0 3.0l-3.0 -3.0zM344.6 339.4l3.0 3.0l-3.0 3.0l-3.0 -3.0zM345.3 339.6l3.0 3.0l-3.0 3.0l-3.0 -3.0zM346.1 339.8l3.0 3.0l-3.0 3.0l-3.0 -3.0zM346.8 340.0l3.0 3.0l-3.0 3.0l-3.0 -3.0zM347.6 340.2l3.0 3.0l-3.0 3.0l-3.0 -3.0zM348.3 340.4l3.0 3.0l-3.0 3.0l-3.0 -3.0zM349.1 340.6l3.0 3.0l-3.0 3.0l-3.0 -3.0zM349.8 340.8l3.0 3.0l-3.0 3.0l-3.0 -3.0zM350.6 341.0l3.0 3.0l-3.0 3.0l-3.0 -3.0zM351.4 341.2l3.0 3.0l-3.0 3.0l-3.0 -3.0zM352.1 341.4l3.0 3.0l-3.0 3.0l-3.0 -3.0zM352.9 341.6l3.0 3.0l-3.0 3.0l-3.0 -3.0zM353.6 341.7l3.0 3.0l-3.0 3.0l-3.0 -3.0zM354.4 341.9l3.0 3.0l-3.0 3.0l-3.0 -3.0zM355.1 342.1l3.0 3.0l-3.0 3.0l-3.0 -3.0zM355.9 342.2l3.0 3.0l-3.0 3.0l-3.0 -3.0zM356.6 342.4l3.0 3.0l-3.0 3.0l-3.0 -3.0zM357.4 342.5l3.0 3.0l-3.0 3.0l-3.0 -3.0zM358.1 342.7l3.0 3.0l-3.0 3.0l-3.0 -3.0zM358.9 342.8l3.0 3.0l-3.0 3.0l-3.0 -3.0zM359.6 342.9l3.0 3.0l-3.0 3.0l-3.0 -3.0zM360.4 343.1l3.0 3.0l-3.0 3.0l-3.0 -3.0zM361.1 343.2l3.0 3.0l-3.0 3.0l-3.0 -3.0zM361.9 343.3l3.0 3.0l-3.0 3.0l-3.0 -3.0zM362.6 343.5l3.0 3.0l-3.0 3.0l-3.0 -3.0zM363.4 343.6l3.0 3.0l-3.0 3.0l-3.0 -3.0zM364.1 343.7l3.0 3.0l-3.0 3.0l-3.0 -3.0zM364.9 343.8l3.0 3.0l-3.0 3.0l-3.0 -3.0zM365.7 344.0l3.0 3.0l-3.0 3.0l-3.0 -3.0zM366.4 344.1l3.0 3.0l-3.0 3.0l-3.0 -3.0zM367.2 344.2l3.0 3.0l-3.0 3.0l-3.0 -3.0zM367.9 344.3l3.0 3.0l-3.0 3.0l-3.0 -3.0zM368.7 344.4l3.0 3.0l-3.0 3.0l-3.0 -3.0zM369.4 344.5l3.0 3.0l-3.0 3.0l-3.0 -3.0zM370.2 344.6l3.0 3.0l-3.0 3.0l-3.0 -3.0zM370.9 344.7l3.0 3.0l-3.0 3.0l-3.0 -3.0zM371.7 344.8l3.0 3.0l-3.0 3.0l-3.0 -3.0zM372.4 344.9l3.0 3.0l-3.0 3.0l-3.0 -3.0zM373.2 345.0l3.0 3.0l-3.0 3.0l-3.0 -3.0zM373.9 345.1l3.0 3.0l-3.0 3.0l-3.0 -3.0zM374.7 345.2l3.0 3.0l-3.0 3.0l-3.0 -3.0zM375.4 345.3l3.0 3.0l-3.0 3.0l-3.0 -3.0zM376.2 345.3l3.0 3.0l-3.0 3.0l-3.0 -3.0zM376.9 345.4l3.0 3.0l-3.0 3.0l-3.0 -3.0zM377.7 345.5l3.0 3.0l-3.0 3.0l-3.0 -3.0zM378.4 345.6l3.0 3.0l-3.0 3.0l-3.0 -3.0zM379.2 345.7l3.0 3.0l-3.0 3.0l-3.0 -3.0zM380.0 345.7l3.0 3.0l-3.0 3.0l-3.0 -3.0zM380.7 345.8l3.0 3.0l-3.0 3.0l-3.0 -3.0zM381.5 345.9l3.0 3.0l-3.0 3.0l-3.0 -3.0zM382.2 346.0l3.0 3.0l-3.0 3.0l-3.0 -3.0zM383.0 346.0l3.0 3.0l-3.0 3.0l-3.0 -3.0zM383.7 346.1l3.0 3.0l-3.0 3.0l-3.0 -3.0zM384.5 346.2l3.0 3.0l-3.0 3.0l-3.0 -3.0zM385.2 346.2l3.0 3.0l-3.0 3.0l-3.0 -3.0zM386.0 346.3l3.0 3.0l-3.0 3.0l-3.0 -3.0zM386.7 346.4l3.0 3.0l-3.0 3.0l-3.0 -3.0zM387.5 346.4l3.0 3.0l-3.0 3.0l-3.0 -3.0zM388.2 346.5l3.0 3.0l-3.0 3.0l-3.0 -3.0zM389.0 346.5l3.0 3.0l-3.0 3.0l-3.0 -3.0zM389.7 346.6l3.0 3.0l-3.0 3.0l-3.0 -3.0zM390.5 346.7l3.0 3.0l-3.0 3.0l-3.0 -3.0zM391.2 346.7l3.0 3.0l-3.0 3.0l-3.0 -3.0zM392.0 346.8l3.0 3.0l-3.0 3.0l-3.0 -3.0zM392.7 346.8l3.0 3.0l-3.0 3.0l-3.0 -3.0zM393.5 346.9l3.0 3.0l-3.0 3.0l-3.0 -3.0zM394.3 346.9l3.0 3.0l-3.0 3.0l-3.0 -3.0zM395.0 347.0l3.0 3.0l-3.0 3.0l-3.0 -3.0zM395.8 347.0l3.0 3.0l-3.0 3.0l-3.0 -3.0zM396.5 347.1l3.0 3.0l-3.0 3.0l-3.0 -3.0zM397.3 347.1l3.0 3.0l-3.0 3.0l-3.0 -3.0zM398.0 347.2l3.0 3.0l-3.0 3.0l-3.0 -3.0zM398.8 347.2l3.0 3.0l-3.0 3.0l-3.0 -3.0zM399.5 347.3l3.0 3.0l-3.0 3.0l-3.0 -3.0zM400.3 347.3l3.0 3.0l-3.0 3.0l-3.0 -3.0zM401.0 347.3l3.0 3.0l-3.0 3.0l-3.0 -3.0zM401.8 347.4l3.0 3.0l-3.0 3.0l-3.0 -3.0zM402.5 347.4l3.0 3.0l-3.0 3.0l-3.0 -3.0zM403.3 347.5l3.0 3.0l-3.0 3.0l-3.0 -3.0zM404.0 347.5l3.0 3.0l-3.0 3.0l-3.0 -3.0zM404.8 347.5l3.0 3.0l-3.0 3.0l-3.0 -3.0zM405.5 347.6l3.0 3.0l-3.0 3.0l-3.0 -3.0zM406.3 347.6l3.0 3.0l-3.0 3.0l-3.0 -3.0zM407.0 347.7l3.0 3.0l-3.0 3.0l-3.0 -3.0zM407.8 347.7l3.0 3.0l-3.0 3.0l-3.0 -3.0zM408.6 347.7l3.0 3.0l-3.0 3.0l-3.0 -3.0zM409.3 347.8l3.0 3.0l-3.0 3.0l-3.0 -3.0zM410.1 347.8l3.0 3.0l-3.0 3.0l-3.0 -3.0zM410.8 347.8l3.0 3.0l-3.0 3.0l-3.0 -3.0zM411.6 347.9l3.0 3.0l-3.0 3.0l-3.0 -3.0zM412.3 347.9l3.0 3.0l-3.0 3.0l-3.0 -3.0zM413.1 347.9l3.0 3.0l-3.0 3.0l-3.0 -3.0zM413.8 348.0l3.0 3.0l-3.0 3.0l-3.0 -3.0zM414.6 348.0l3.0 3.0l-3.0 3.0l-3.0 -3.0zM415.3 348.0l3.0 3.0l-3.0 3.0l-3.0 -3.0zM416.1 348.0l3.0 3.0l-3.0 3.0l-3.0 -3.0zM416.8 348.1l3.0 3.0l-3.0 3.0l-3.0 -3.0zM417.6 348.1l3.0 3.0l-3.0 3.0l-3.0 -3.0zM418.3 348.1l3.0 3.0l-3.0 3.0l-3.0 -3.0zM419.1 348.2l3.0 3.0l-3.0 3.0l-3.0 -3.0zM419.8 348.2l3.0 3.0l-3.0 3.0l-3.0 -3.0zM420.6 348.2l3.0 3.0l-3.0 3.0l-3.0 -3.0zM421.3 348.2l3.0 3.0l-3.0 3.0l-3.0 -3.0zM422.1 348.3l3.0 3.0l-3.0 3.0l-3.0 -3.0zM422.9 348.3l3.0 3.0l-3.0 3.0l-3.0 -3.0zM423.6 348.3l3.0 3.0l-3.0 3.0l-3.0 -3.0zM424.4 348.3l3.0 3.0l-3.0 3.0l-3.0 -3.0zM425.1 348.4l3.0 3.0l-3.0 3.0l-3.0 -3.0zM425.9 348.4l3.0 3.0l-3.0 3.0l-3.0 -3.0zM426.6 348.4l3.0 3.0l-3.0 3.0l-3.0 -3.0zM427.4 348.4l3.0 3.0l-3.0 3.0l-3.0 -3.0zM428.1 348.5l3.0 3.0l-3.0 3.0l-3.0 -3.0zM428.9 348.5l3.0 3.0l-3.0 3.0l-3.0 -3.0zM429.6 348.5l3.0 3.0l-3.0 3.0l-3.0 -3.0zM430.4 348.5l3.0 3.0l-3.0 3.0l-3.0 -3.0zM431.1 348.5l3.0 3.0l-3.0 3.0l-3.0 -3.0zM431.9 348.6l3.0 3.0l-3.0 3.0l-3.0 -3.0zM432.6 348.6l3.0 3.0l-3.0 3.0l-3.0 -3.0zM433.4 348.6l3.0 3.0l-3.0 3.0l-3.0 -3.0zM434.1 348.6l3.0 3.0l-3.0 3.0l-3.0 -3.0zM434.9 348.6l3.0 3.0l-3.0 3.0l-3.0 -3.0zM435.6 348.7l3.0 3.0l-3.0 3.0l-3.0 -3.0zM436.4 348.7l3.0 3.0l-3.0 3.0l-3.0 -3.0zM437.2 348.7l3.0 3.0l-3.0 3.0l-3.0 -3.0zM437.9 348.7l3.0 3.0l-3.0 3.0l-3.0 -3.0zM438.7 348.7l3.0 3.0l-3.0 3.0l-3.0 -3.0zM439.4 348.7l3.0 3.0l-3.0 3.0l-3.0 -3.0zM440.2 348.8l3.0 3.0l-3.0 3.0l-3.0 -3.0zM440.9 348.8l3.0 3.0l-3.0 3.0l-3.0 -3.0zM441.7 348.8l3.0 3.0l-3.0 3.0l-3.0 -3.0z"/><path fill="#ab3593" d="M268.2 -11.8v5.8l-4.5 -2.9zM268.5 -5.5v5.8l-4.5 -2.9zM268.9 0.7v5.8l-4.5 -2.9zM269.3 6.7v5.8l-4.5 -2.9zM269.6 12.6v5.8l-4.5 -2.9zM270.0 18.4v5.8l-4.5 -2.9zM270.4 24.1v5.8l-4.5 -2.9zM270.7 29.7v5.8l-4.5 -2.9zM271.1 35.1v5.8l-4.5 -2.9zM271.4 40.5v5.8l-4.5 -2.9zM271.8 45.7v5.8l-4.5 -2.9zM272.2 50.8v5.8l-4.5 -2.9zM272.5 55.9v5.8l-4.5 -2.9zM272.9 60.8v5.8l-4.5 -2.9zM273.3 65.6v5.8l-4.5 -2.9zM273.6 70.4v5.8l-4.5 -2.9zM274.0 75.0v5.8l-4.5 -2.9zM274.4 79.5v5.8l-4.5 -2.9zM274.7 84.0v5.8l-4.5 -2.9zM275.1 88.4v5.8l-4.5 -2.9zM275.4 92.7v5.8l-4.5 -2.9zM275.8 96.9v5.8l-4.5 -2.9zM276.2 101.0v5.8l-4.5 -2.9zM276.5 105.0v5.8l-4.5 -2.9zM276.9 109.0v5.8l-4.5 -2.9zM277.3 112.9v5.8l-4.5 -2.9zM277.6 116.7v5.8l-4.5 -2.9zM278.0 120.5v5.8l-4.5 -2.9zM278.4 124.1v5.8l-4.5 -2.9zM278.7 127.7v5.8l-4.5 -2.9zM279.1 131.3v5.8l-4.5 -2.9zM279.4 134.7v5.8l-4.5 -2.9zM279.8 138.1v5.8l-4.5 -2.9zM280.2 141.5v5.8l-4.5 -2.9zM280.5 144.7v5.8l-4.5 -2.9zM280.9 147.9v5.8l-4.5 -2.9zM281.3 151.1v5.8l-4.5 -2.9zM281.6 154.2v5.8l-4.5 -2.9zM282.0 157.2v5.8l-4.5 -2.9zM282.4 160.2v5.8l-4.5 -2.9zM282.7 163.1v5.8l-4.5 -2.9zM283.1 166.0v5.8l-4.5 -2.9zM283.4 168.8v5.8l-4.5 -2.9zM283.8 171.6v5.8l-4.5 -2.9zM284.2 174.3v5.8l-4.5 -2.9zM284.5 177.0v5.8l-4.5 -2.9zM284.9 179.6v5.8l-4.5 -2.9zM285.3 182.2v5.8l-4.5 -2.9zM285.6 184.7v5.8l-4.5 -2.9zM286.0 187.2v5.8l-4.5 -2.9zM286.4 189.6v5.8l-4.5 -2.9zM286.7 192.0v5.8l-4.5 -2.9zM287.1 194.4v5.8l-4.5 -2.9zM287.4 196.7v5.8l-4.5 -2.9zM287.8 198.9v5.8l-4.5 -2.9zM288.2 201.2v5.8l-4.5 -2.9zM288.5 203.4v5.8l-4.5 -2.9zM288.9 205.5v5.8l-4.5 -2.9zM289.3 207.6v5.8l-4.5 -2.9zM289.6 209.7v5.8l-4.5 -2.9zM290.0 211.7v5.8l-4.5 -2.9zM290.4 213.7v5.8l-4.5 -2.9zM290.7 215.7v5.8l-4.5 -2.9zM291.1 217.6v5.8l-4.5 -2.9zM291.5 219.5v5.8l-4.5 -2.9zM291.8 221.4v5.8l-4.5 -2.9zM292.2 223.3v5.8l-4.5 -2.9zM292.5 225.1v5.8l-4.5 -2.9zM292.9 226.8v5.8l-4.5 -2.9zM293.3 228.6v5.8l-4.5 -2.9zM293.6 230.3v5.8l-4.5 -2.9zM294.0 232.0v5.8l-4.5 -2.9zM294.4 233.6v5.8l-4.5 -2.9zM294.7 235.3v5.8l-4.5 -2.9zM295.1 236.9v5.8l-4.5 -2.9zM295.5 238.4v5.8l-4.5 -2.9zM295.8 240.0v5.8l-4.5 -2.9zM296.2 241.5v5.8l-4.5 -2.9zM296.5 243.0v5.8l-4.5 -2.9zM296.9 244.5v5.8l-4.5 -2.9zM297.3 245.9v5.8l-4.5 -2.9zM297.6 247.4v5.8l-4.5 -2.9zM298.0 248.8v5.8l-4.5 -2.9zM298.4 250.1v5.8l-4.5 -2.9zM298.7 251.5v5.8l-4.5 -2.9zM299.1 252.8v5.8l-4.5 -2.9zM299.5 254.1v5.8l-4.5 -2.9zM299.8 255.4v5.8l-4.5 -2.9zM300.2 256.7v5.8l-4.5 -2.9zM300.5 258.0v5.8l-4.5 -2.9zM300.9 259.2v5.8l-4.5 -2.9zM301.3 260.4v5.8l-4.5 -2.9zM301.6 261.6v5.8l-4.5 -2.9zM302.0 262.7v5.8l-4.5 -2.9zM302.4 263.9v5.8l-4.5 -2.9zM302.7 265.0v5.8l-4.5 -2.9zM303.1 266.2v5.8l-4.5 -2.9zM303.5 267.3v5.8l-4.5 -2.9zM303.8 268.3v5.8l-4.5 -2.9zM304.2 269.4v5.8l-4.5 -2.9zM304.5 270.4v5.8l-4.5 -2.9zM304.9 271.5v5.8l-4.5 -2.9zM305.3 272.5v5.8l-4.5 -2.9zM305.6 273.5v5.8l-4.5 -2.9zM306.0 274.5v5.8l-4.5 -2.9zM306.4 275.4v5.8l-4.5 -2.9zM306.7 276.4v5.8l-4.5 -2.9zM307.1 277.3v5.8l-4.5 -2.9zM307.5 278.3v5.8l-4.5 -2.9zM307.8 279.2v5.8l-4.5 -2.9zM308.2 280.1v5.8l-4.5 -2.9zM308.5 280.9v5.8l-4.5 -2.9zM308.9 281.8v5.8l-4.5 -2.9zM309.3 282.7v5.8l-4.5 -2.9zM309.6 283.5v5.8l-4.5 -2.9zM310.0 284.3v5.8l-4.5 -2.9zM310.4 285.2v5.8l-4.5 -2.9zM310.7 286.0v5.8l-4.5 -2.9zM311.1 286.8v5.8l-4.5 -2.9zM311.5 287.5v5.8l-4.5 -2.9zM311.8 288.3v5.8l-4.5 -2.9zM312.2 289.1v5.8l-4.5 -2.9zM312.5 289.8v5.8l-4.5 -2.9zM312.9 290.5v5.8l-4.5 -2.9zM313.3 291.3v5.8l-4.5 -2.9zM313.6 292.0v5.8l-4.5 -2.9zM314.0 292.7v5.8l-4.5 -2.9zM314.4 293.4v5.8l-4.5 -2.9zM314.7 294.1v5.8l-4.5 -2.9zM315.1 294.7v5.8l-4.5 -2.9zM315.5 295.4v5.8l-4.5 -2.9zM315.8 296.1v5.8l-4.5 -2.9zM316.2 296.7v5.8l-4.5 -2.9zM316.6 297.3v5.8l-4.5 -2.9zM316.9 298.0v5.8l-4.5 -2.9zM317.3 298.6v5.8l-4.5 -2.9zM317.6 299.2v5.8l-4.5 -2.9zM318.0 299.8v5.8l-4.5 -2.9zM318.7 301.0v5.8l-4.5 -2.9zM319.5 302.1v5.8l-4.5 -2.9zM320.2 303.2v5.8l-4.5 -2.9zM320.9 304.3v5.8l-4.5 -2.9zM321.6 305.3v5.8l-4.5 -2.9zM322.4 306.3v5.8l-4.5 -2.9zM323.1 307.3v5.8l-4.5 -2.9zM323.8 308.3v5.8l-4.5 -2.9zM324.6 309.2v5.8l-4.5 -2.9zM325.3 310.1v5.8l-4.5 -2.9zM326.0 311.0v5.8l-4.5 -2.9zM326.7 311.9v5.8l-4.5 -2.9zM327.5 312.7v5.8l-4.5 -2.9zM328.2 313.5v5.8l-4.5 -2.9zM328.9 314.3v5.8l-4.5 -2.9zM329.6 315.1v5.8l-4.5 -2.9zM330.4 315.9v5.8l-4.5 -2.9zM331.1 316.6v5.8l-4.5 -2.9zM331.8 317.3v5.8l-4.5 -2.9zM332.6 318.0v5.8l-4.5 -2.9zM333.3 318.7v5.8l-4.5 -2.9zM334.0 319.3v5.8l-4.5 -2.9zM334.7 320.0v5.8l-4.5 -2.9zM335.5 320.6v5.8l-4.5 -2.9zM336.2 321.2v5.8l-4.5 -2.9zM336.9 321.8v5.8l-4.5 -2.9zM337.6 322.4v5.8l-4.5 -2.9zM338.4 323.0v5.8l-4.5 -2.9zM339.1 323.5v5.8l-4.5 -2.9zM339.8 324.1v5.8l-4.5 -2.9zM340.6 324.6v5.8l-4.5 -2.9zM341.3 325.1v5.8l-4.5 -2.9zM342.0 325.6v5.8l-4.5 -2.9zM342.7 326.1v5.8l-4.5 -2.9zM343.5 326.6v5.8l-4.5 -2.9zM344.2 327.0v5.8l-4.5 -2.9zM344.9 327.5v5.8l-4.5 -2.9zM345.7 327.9v5.8l-4.5 -2.9zM346.4 328.3v5.8l-4.5 -2.9zM347.1 328.8v5.8l-4.5 -2.9zM347.8 329.2v5.8l-4.5 -2.9zM348.6 329.6v5.8l-4.5 -2.9zM349.3 330.0v5.8l-4.5 -2.9zM350.0 330.4v5.8l-4.5 -2.9zM350.7 330.7v5.8l-4.5 -2.9zM351.5 331.1v5.8l-4.5 -2.9zM352.2 331.4v5.8l-4.5 -2.9zM352.9 331.8v5.8l-4.5 -2.9zM353.7 332.1v5.8l-4.5 -2.9zM354.4 332.5v5.8l-4.5 -2.9zM355.1 332.8v5.8l-4.5 -2.9zM355.8 333.1v5.8l-4.5 -2.9zM356.6 333.4v5.8l-4.5 -2.9zM357.3 333.7v5.8l-4.5 -2.9zM358.0 334.0v5.8l-4.5 -2.9zM358.7 334.3v5.8l-4.5 -2.9zM359.5 334.6v5.8l-4.5 -2.9zM360.2 334.9v5.8l-4.5 -2.9zM360.9 335.1v5.8l-4.5 -2.9zM361.7 335.4v5.8l-4.5 -2.9zM362.4 335.7v5.8l-4.5 -2.9zM363.1 335.9v5.8l-4.5 -2.9zM363.8 336.2v5.8l-4.5 -2.9zM364.6 336.4v5.8l-4.5 -2.9zM365.3 336.6v5.8l-4.5 -2.9zM366.0 336.9v5.8l-4.5 -2.9zM366.8 337.1v5.8l-4.5 -2.9zM367.5 337.3v5.8l-4.5 -2.9zM368.2 337.5v5.8l-4.5 -2.9zM368.9 337.8v5.8l-4.5 -2.9zM369.7 338.0v5.8l-4.5 -2.9zM370.4 338.2v5.8l-4.5 -2.9zM371.1 338.4v5.8l-4.5 -2.9zM371.8 338.6v5.8l-4.5 -2.9zM372.6 338.8v5.8l-4.5 -2.9zM373.3 338.9v5.8l-4.5 -2.9zM374.0 339.1v5.8l-4.5 -2.9zM374.8 339.3v5.8l-4.5 -2.9zM375.5 339.5v5.8l-4.5 -2.9zM376.2 339.7v5.8l-4.5 -2.9zM376.9 339.8v5.8l-4.5 -2.9zM377.7 340.0v5.8l-4.5 -2.9zM378.4 340.2v5.8l-4.5 -2.9zM379.1 340.3v5.8l-4.5 -2.9zM379.8 340.5v5.8l-4.5 -2.9zM380.6 340.6v5.8l-4.5 -2.9zM381.3 340.8v5.8l-4.5 -2.9zM382.0 340.9v5.8l-4.5 -2.9zM382.8 341.1v5.8l-4.5 -2.9zM383.5 341.2v5.8l-4.5 -2.9zM384.2 341.3v5.8l-4.5 -2.9zM384.9 341.5v5.8l-4.5 -2.9zM385.7 341.6v5.8l-4.5 -2.9zM386.4 341.7v5.8l-4.5 -2.9zM387.1 341.9v5.8l-4.5 -2.9zM387.9 342.0v5.8l-4.5 -2.9zM388.6 342.1v5.8l-4.5 -2.9zM389.3 342.2v5.8l-4.5 -2.9zM390.0 342.4v5.8l-4.5 -2.9zM390.8 342.5v5.8l-4.5 -2.9zM391.5 342.6v5.8l-4.5 -2.9zM392.2 342.7v5.8l-4.5 -2.9zM392.9 342.8v5.8l-4.5 -2.9zM393.7 342.9v5.8l-4.5 -2.9zM394.4 343.0v5.8l-4.5 -2.9zM395.1 343.1v5.8l-4.5 -2.9zM395.9 343.2v5.8l-4.5 -2.9zM396.6 343.3v5.8l-4.5 -2.9zM397.3 343.4v5.8l-4.5 -2.9zM398.0 343.5v5.8l-4.5 -2.9zM398.8 343.6v5.8l-4.5 -2.9zM399.5 343.7v5.8l-4.5 -2.9zM400.2 343.8v5.8l-4.5 -2.9zM400.9 343.9v5.8l-4.5 -2.9zM401.7 344.0v5.8l-4.5 -2.9zM402.4 344.1v5.8l-4.5 -2.9zM403.1 344.2v5.8l-4.5 -2.9zM403.9 344.2v5.8l-4.5 -2.9zM404.6 344.3v5.8l-4.5 -2.9zM405.3 344.4v5.8l-4.5 -2.9zM406.0 344.5v5.8l-4.5 -2.9zM406.8 344.6v5.8l-4.5 -2.9zM407.5 344.6v5.8l-4.5 -2.9zM408.2 344.7v5.8l-4.5 -2.9zM409.0 344.8v5.8l-4.5 -2.9zM409.7 344.9v5.8l-4.5 -2.9zM410.4 344.9v5.8l-4.5 -2.9zM411.1 345.0v5.8l-4.5 -2.9zM411.9 345.1v5.8l-4.5 -2.9zM412.6 345.1v5.8l-4.5 -2.9zM413.3 345.2v5.8l-4.5 -2.9zM414.0 345.3v5.8l-4.5 -2.9zM414.8 345.3v5.8l-4.5 -2.9zM415.5 345.4v5.8l-4.5 -2.9zM416.2 345.5v5.8l-4.5 -2.9zM417.0 345.5v5.8l-4.5 -2.9zM417.7 345.6v5.8l-4.5 -2.9zM418.4 345.6v5.8l-4.5 -2.9zM419.1 345.7v5.8l-4.5 -2.9zM419.9 345.8v5.8l-4.5 -2.9zM420.6 345.8v5.8l-4.5 -2.9zM421.3 345.9v5.8l-4.5 -2.9zM422.0 345.9v5.8l-4.5 -2.9zM422.8 346.0v5.8l-4.5 -2.9zM423.5 346.0v5.8l-4.5 -2.9zM424.2 346.1v5.8l-4.5 -2.9zM425.0 346.1v5.8l-4.5 -2.9zM425.7 346.2v5.8l-4.5 -2.9zM426.4 346.2v5.8l-4.5 -2.9zM427.1 346.3v5.8l-4.5 -2.9zM427.9 346.3v5.8l-4.5 -2.9zM428.6 346.4v5.8l-4.5 -2.9zM429.3 346.4v5.8l-4.5 -2.9zM430.0 346.5v5.8l-4.5 -2.9zM430.8 346.5v5.8l-4.5 -2.9zM431.5 346.6v5.8l-4.5 -2.9zM432.2 346.6v5.8l-4.5 -2.9zM433.0 346.6v5.8l-4.5 -2.9zM433.7 346.7v5.8l-4.5 -2.9zM434.4 346.7v5.8l-4.5 -2.9zM435.1 346.8v5.8l-4.5 -2.9zM435.9 346.8v5.8l-4.5 -2.9zM436.6 346.8v5.8l-4.5 -2.9zM437.3 346.9v5.8l-4.5 -2.9zM438.1 346.9v5.8l-4.5 -2.9zM438.8 347.0v5.8l-4.5 -2.9zM439.5 347.0v5.8l-4.5 -2.9zM440.2 347.0v5.8l-4.5 -2.9zM441.0 347.1v5.8l-4.5 -2.9zM441.7 347.1v5.8l-4.5 -2.9zM442.4 347.1v5.8l-4.5 -2.9zM443.1 347.2v5.8l-4.5 -2.9zM443.9 347.2v5.8l-4.5 -2.9z"/></g>
<g class="serif" font-size="16" fill="#000"><text x="54.8" y="373" text-anchor="middle">-200</text><text x="126.3" y="373" text-anchor="middle">0</text><text x="197.8" y="373" text-anchor="middle">200</text><text x="269.3" y="373" text-anchor="middle">400</text><text x="340.9" y="373" text-anchor="middle">600</text><text x="412.4" y="373" text-anchor="middle">800</text><text x="483.9" y="373" text-anchor="middle">1000</text><text x="47.5" y="358.6" text-anchor="end">0</text><text x="47.5" y="289.3" text-anchor="end">2</text><text x="47.5" y="219.9" text-anchor="end">4</text><text x="47.5" y="150.6" text-anchor="end">6</text><text x="47.5" y="81.2" text-anchor="end">8</text><text x="47.5" y="11.9" text-anchor="end">10</text></g>
<text class="serif" font-size="24" transform="translate(17.4 195.5) rotate(-90) scale(1 1.08)" text-anchor="middle">Percent Hydrogen</text>
<text class="serif" font-size="23.5" x="269.3" y="407.8" text-anchor="middle">Temperature (°C)</text>
<rect x="348" y="27.4" width="114.6" height="124.4" fill="#fff" stroke="#555" stroke-width="1.2"/>
<path fill="#000000" d="M371.2 37.1h4.3v4.3h-4.3z"/><path fill="#cc3214" d="M370.8 59.6a2.6 2.6 0 1 0 5.2 0a2.6 2.6 0 1 0 -5.2 0z"/><path fill="#56a43c" d="M370.5 82.0h5.8l-2.9 -5.2z"/><path fill="#2a1680" d="M370.5 98.2h5.8l-2.9 5.2z"/><path fill="#4fb0ae" d="M373.4 117.6l3.0 3.0l-3.0 3.0l-3.0 -3.0z"/><path fill="#ab3593" d="M375.2 138.0v5.8l-4.5 -2.9z"/>
<g class="serif" font-size="16.5" fill="#000"><text x="395.5" y="45.5">0.1ppm</text><text x="395.5" y="65.8">1ppm</text><text x="395.5" y="86.0">10ppm</text><text x="395.5" y="106.2">100ppm</text><text x="395.5" y="126.5">500ppm</text><text x="395.5" y="146.8">1000ppm</text></g>
<rect x="305.6" y="176.6" width="107.7" height="31.4" fill="#fff" stroke="#777" stroke-width="1.1"/>
<text class="sans" font-size="20" x="314.8" y="199.3">Reduction</text>
<rect x="61" y="304.6" width="100.8" height="31.2" fill="#fff" stroke="#777" stroke-width="1.1"/>
<text class="sans" font-size="20" x="70" y="328.1">Oxidation</text>
</svg>
</body></html>
